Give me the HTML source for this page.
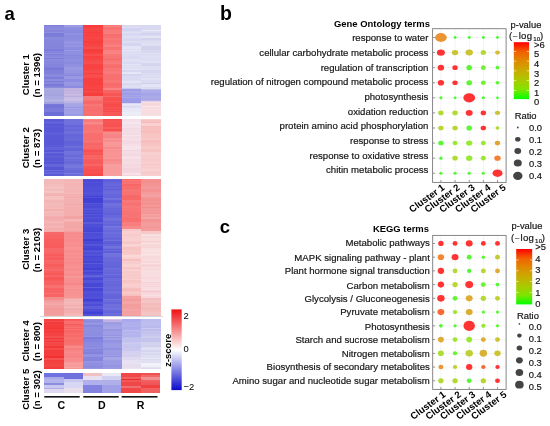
<!DOCTYPE html>
<html><head><meta charset="utf-8"><title>figure</title><style>
html,body{margin:0;padding:0;background:#fff;width:550px;height:426px;overflow:hidden}
svg{display:block;will-change:transform}
text{font-family:"Liberation Sans",sans-serif}
.lb{fill:#141414;stroke:#141414;stroke-width:0.18px}
</style></head><body>
<svg width="550" height="426" viewBox="0 0 550 426">
<rect width="550" height="426" fill="#fff"/>
<g shape-rendering="crispEdges">
<rect x="44.30" y="373.00" width="19.32" height="3.65" fill="#7070e0"/>
<rect x="44.30" y="376.60" width="19.32" height="2.85" fill="#a8a8e8"/>
<rect x="44.30" y="379.40" width="19.32" height="3.85" fill="#b4b4ec"/>
<rect x="44.30" y="383.20" width="19.32" height="1.45" fill="#8c8ce0"/>
<rect x="44.30" y="384.60" width="19.32" height="2.95" fill="#c8c8f0"/>
<rect x="44.30" y="387.50" width="19.32" height="1.55" fill="#b0b0e8"/>
<rect x="44.30" y="389.00" width="19.32" height="3.85" fill="#e0d8f0"/>
<rect x="63.57" y="373.00" width="19.32" height="5.95" fill="#7070dc"/>
<rect x="63.57" y="378.90" width="19.32" height="3.55" fill="#c8c8f0"/>
<rect x="63.57" y="382.40" width="19.32" height="5.35" fill="#d8d8f4"/>
<rect x="63.57" y="387.70" width="19.32" height="5.15" fill="#e8e0ec"/>
<rect x="82.84" y="373.00" width="19.32" height="2.95" fill="#f0c0c4"/>
<rect x="82.84" y="375.90" width="19.32" height="3.65" fill="#e8e0f0"/>
<rect x="82.84" y="379.50" width="19.32" height="5.95" fill="#b0b0ec"/>
<rect x="82.84" y="385.40" width="19.32" height="7.45" fill="#8282e0"/>
<rect x="102.11" y="373.00" width="19.32" height="2.95" fill="#e8e8f4"/>
<rect x="102.11" y="375.90" width="19.32" height="3.65" fill="#d0d0f0"/>
<rect x="102.11" y="379.50" width="19.32" height="5.95" fill="#b0b0e8"/>
<rect x="102.11" y="385.40" width="19.32" height="7.45" fill="#a0a0e8"/>
<rect x="121.38" y="373.00" width="19.32" height="4.05" fill="#f04848"/>
<rect x="121.38" y="377.00" width="19.32" height="1.55" fill="#f06060"/>
<rect x="121.38" y="378.50" width="19.32" height="1.55" fill="#ee2c2c"/>
<rect x="121.38" y="380.00" width="19.32" height="1.55" fill="#f05858"/>
<rect x="121.38" y="381.50" width="19.32" height="4.55" fill="#f04848"/>
<rect x="121.38" y="386.00" width="19.32" height="2.05" fill="#f07070"/>
<rect x="121.38" y="388.00" width="19.32" height="4.85" fill="#f04848"/>
<rect x="140.65" y="373.00" width="19.32" height="2.05" fill="#f05050"/>
<rect x="140.65" y="375.00" width="19.32" height="2.05" fill="#f06868"/>
<rect x="140.65" y="377.00" width="19.32" height="2.55" fill="#f09090"/>
<rect x="140.65" y="379.50" width="19.32" height="2.55" fill="#f06060"/>
<rect x="140.65" y="382.00" width="19.32" height="3.05" fill="#f05858"/>
<rect x="140.65" y="385.00" width="19.32" height="3.05" fill="#f04040"/>
<rect x="140.65" y="388.00" width="19.32" height="4.85" fill="#f06060"/>
<rect x="44.30" y="24.75" width="19.45" height="1.55" fill="#8080db"/>
<rect x="44.30" y="26.25" width="19.45" height="2.05" fill="#8888dd"/>
<rect x="44.30" y="28.25" width="19.45" height="2.05" fill="#8b8bde"/>
<rect x="44.30" y="30.25" width="19.45" height="2.05" fill="#8585dc"/>
<rect x="44.30" y="32.25" width="19.45" height="1.05" fill="#9090e0"/>
<rect x="44.30" y="33.25" width="19.45" height="1.05" fill="#7a7ad9"/>
<rect x="44.30" y="34.25" width="19.45" height="3.05" fill="#7c7cda"/>
<rect x="44.30" y="37.25" width="19.45" height="2.05" fill="#8b8bde"/>
<rect x="44.30" y="39.25" width="19.45" height="1.05" fill="#8787dd"/>
<rect x="44.30" y="40.25" width="19.45" height="1.05" fill="#8686dd"/>
<rect x="44.30" y="41.25" width="19.45" height="2.05" fill="#8585dc"/>
<rect x="44.30" y="43.25" width="19.45" height="2.05" fill="#8585dc"/>
<rect x="44.30" y="45.25" width="19.45" height="1.05" fill="#8686dd"/>
<rect x="44.30" y="46.25" width="19.45" height="1.05" fill="#8282dc"/>
<rect x="44.30" y="47.25" width="19.45" height="2.05" fill="#8585dc"/>
<rect x="44.30" y="49.25" width="19.45" height="2.05" fill="#7c7cda"/>
<rect x="44.30" y="51.25" width="19.45" height="1.55" fill="#8484dc"/>
<rect x="44.30" y="52.75" width="19.45" height="1.05" fill="#8f8fdf"/>
<rect x="44.30" y="53.75" width="19.45" height="1.55" fill="#7e7eda"/>
<rect x="44.30" y="55.25" width="19.45" height="1.55" fill="#8787dd"/>
<rect x="44.30" y="56.75" width="19.45" height="1.05" fill="#8e8edf"/>
<rect x="44.30" y="57.75" width="19.45" height="1.05" fill="#7a7ad9"/>
<rect x="44.30" y="58.75" width="19.45" height="2.05" fill="#8c8cdf"/>
<rect x="44.30" y="60.75" width="19.45" height="2.05" fill="#8686dd"/>
<rect x="44.30" y="62.75" width="19.45" height="1.55" fill="#8888dd"/>
<rect x="44.30" y="64.25" width="19.45" height="2.05" fill="#8484dc"/>
<rect x="44.30" y="66.25" width="19.45" height="1.05" fill="#8484dc"/>
<rect x="44.30" y="67.25" width="19.45" height="1.05" fill="#7f7fdb"/>
<rect x="44.30" y="68.25" width="19.45" height="1.55" fill="#7878d9"/>
<rect x="44.30" y="69.75" width="19.45" height="1.55" fill="#8080db"/>
<rect x="44.30" y="71.25" width="19.45" height="3.05" fill="#8080db"/>
<rect x="44.30" y="74.25" width="19.45" height="2.05" fill="#8989de"/>
<rect x="44.30" y="76.25" width="19.45" height="1.05" fill="#8888dd"/>
<rect x="44.30" y="77.25" width="19.45" height="2.05" fill="#7c7cda"/>
<rect x="44.30" y="79.25" width="19.45" height="2.05" fill="#8d8ddf"/>
<rect x="44.30" y="81.25" width="19.45" height="1.05" fill="#7c7cda"/>
<rect x="44.30" y="82.25" width="19.45" height="2.05" fill="#8989de"/>
<rect x="44.30" y="84.25" width="19.45" height="2.05" fill="#7a7ada"/>
<rect x="44.30" y="86.25" width="19.45" height="1.05" fill="#8383dc"/>
<rect x="44.30" y="87.25" width="19.45" height="1.05" fill="#8b8bdc"/>
<rect x="44.30" y="88.25" width="19.45" height="2.05" fill="#ababe1"/>
<rect x="44.30" y="90.25" width="19.45" height="2.05" fill="#a8a8e0"/>
<rect x="44.30" y="92.25" width="19.45" height="2.05" fill="#a6a6e0"/>
<rect x="44.30" y="94.25" width="19.45" height="2.05" fill="#a4a4df"/>
<rect x="44.30" y="96.25" width="19.45" height="3.05" fill="#aaaae2"/>
<rect x="44.30" y="99.25" width="19.45" height="3.05" fill="#b1b1e4"/>
<rect x="44.30" y="102.25" width="19.45" height="2.05" fill="#a2a2e2"/>
<rect x="44.30" y="104.25" width="19.45" height="2.05" fill="#7777d9"/>
<rect x="44.30" y="106.25" width="19.45" height="1.05" fill="#6e6ed7"/>
<rect x="44.30" y="107.25" width="19.45" height="2.05" fill="#7878da"/>
<rect x="44.30" y="109.25" width="19.45" height="1.05" fill="#7c7cdb"/>
<rect x="44.30" y="110.25" width="19.45" height="2.05" fill="#7b7bdb"/>
<rect x="44.30" y="112.25" width="19.45" height="1.05" fill="#6e6ed7"/>
<rect x="44.30" y="113.25" width="19.45" height="1.55" fill="#6d6dd7"/>
<rect x="44.30" y="114.75" width="19.45" height="1.70" fill="#6d6dd7"/>
<rect x="63.70" y="24.75" width="19.45" height="2.05" fill="#9c9ce5"/>
<rect x="63.70" y="26.75" width="19.45" height="1.55" fill="#9191e2"/>
<rect x="63.70" y="28.25" width="19.45" height="1.55" fill="#8e8ee1"/>
<rect x="63.70" y="29.75" width="19.45" height="3.05" fill="#8989e0"/>
<rect x="63.70" y="32.75" width="19.45" height="2.05" fill="#9090e2"/>
<rect x="63.70" y="34.75" width="19.45" height="3.05" fill="#8a8ae0"/>
<rect x="63.70" y="37.75" width="19.45" height="3.05" fill="#8b8be0"/>
<rect x="63.70" y="40.75" width="19.45" height="3.05" fill="#9595e3"/>
<rect x="63.70" y="43.75" width="19.45" height="1.55" fill="#8d8de1"/>
<rect x="63.70" y="45.25" width="19.45" height="2.05" fill="#9595e3"/>
<rect x="63.70" y="47.25" width="19.45" height="2.05" fill="#8c8ce0"/>
<rect x="63.70" y="49.25" width="19.45" height="1.05" fill="#8989df"/>
<rect x="63.70" y="50.25" width="19.45" height="1.05" fill="#9999e4"/>
<rect x="63.70" y="51.25" width="19.45" height="2.05" fill="#9090e1"/>
<rect x="63.70" y="53.25" width="19.45" height="1.55" fill="#8f8fe1"/>
<rect x="63.70" y="54.75" width="19.45" height="1.05" fill="#8888df"/>
<rect x="63.70" y="55.75" width="19.45" height="3.05" fill="#8b8be0"/>
<rect x="63.70" y="58.75" width="19.45" height="1.55" fill="#9090e1"/>
<rect x="63.70" y="60.25" width="19.45" height="1.55" fill="#8f8fe1"/>
<rect x="63.70" y="61.75" width="19.45" height="2.05" fill="#8a8adf"/>
<rect x="63.70" y="63.75" width="19.45" height="3.05" fill="#9191e1"/>
<rect x="63.70" y="66.75" width="19.45" height="3.05" fill="#9999e3"/>
<rect x="63.70" y="69.75" width="19.45" height="3.05" fill="#9494e2"/>
<rect x="63.70" y="72.75" width="19.45" height="2.05" fill="#9090e1"/>
<rect x="63.70" y="74.75" width="19.45" height="1.05" fill="#8888df"/>
<rect x="63.70" y="75.75" width="19.45" height="3.05" fill="#9898e3"/>
<rect x="63.70" y="78.75" width="19.45" height="3.05" fill="#8c8ce0"/>
<rect x="63.70" y="81.75" width="19.45" height="1.05" fill="#9898e3"/>
<rect x="63.70" y="82.75" width="19.45" height="3.05" fill="#9595e2"/>
<rect x="63.70" y="85.75" width="19.45" height="2.05" fill="#8b8bdf"/>
<rect x="63.70" y="87.75" width="19.45" height="2.05" fill="#c2b4e1"/>
<rect x="63.70" y="89.75" width="19.45" height="1.05" fill="#c1b2df"/>
<rect x="63.70" y="90.75" width="19.45" height="2.05" fill="#c3b4e1"/>
<rect x="63.70" y="92.75" width="19.45" height="1.05" fill="#beb0df"/>
<rect x="63.70" y="93.75" width="19.45" height="1.05" fill="#cabfe5"/>
<rect x="63.70" y="94.75" width="19.45" height="1.05" fill="#c3b7e2"/>
<rect x="63.70" y="95.75" width="19.45" height="1.55" fill="#bcb0e0"/>
<rect x="63.70" y="97.25" width="19.45" height="1.05" fill="#c5bae4"/>
<rect x="63.70" y="98.25" width="19.45" height="3.05" fill="#c9c0e7"/>
<rect x="63.70" y="101.25" width="19.45" height="2.05" fill="#bdb4e2"/>
<rect x="63.70" y="103.25" width="19.45" height="2.05" fill="#a7a6e6"/>
<rect x="63.70" y="105.25" width="19.45" height="2.05" fill="#a3a3e6"/>
<rect x="63.70" y="107.25" width="19.45" height="1.05" fill="#9797e3"/>
<rect x="63.70" y="108.25" width="19.45" height="1.05" fill="#a5a5e7"/>
<rect x="63.70" y="109.25" width="19.45" height="2.05" fill="#9d9de5"/>
<rect x="63.70" y="111.25" width="19.45" height="3.05" fill="#a0a0e6"/>
<rect x="63.70" y="114.25" width="19.45" height="1.05" fill="#9797e4"/>
<rect x="63.70" y="115.25" width="19.45" height="1.05" fill="#9c9ce5"/>
<rect x="63.70" y="116.25" width="19.45" height="0.20" fill="#9191e2"/>
<rect x="83.10" y="24.75" width="19.45" height="1.05" fill="#f83b3b"/>
<rect x="83.10" y="25.75" width="19.45" height="2.05" fill="#f83e3e"/>
<rect x="83.10" y="27.75" width="19.45" height="2.05" fill="#f84646"/>
<rect x="83.10" y="29.75" width="19.45" height="2.05" fill="#f84343"/>
<rect x="83.10" y="31.75" width="19.45" height="2.05" fill="#f83f3f"/>
<rect x="83.10" y="33.75" width="19.45" height="1.55" fill="#f84545"/>
<rect x="83.10" y="35.25" width="19.45" height="1.05" fill="#f83d3d"/>
<rect x="83.10" y="36.25" width="19.45" height="2.05" fill="#f84646"/>
<rect x="83.10" y="38.25" width="19.45" height="3.05" fill="#f84444"/>
<rect x="83.10" y="41.25" width="19.45" height="1.05" fill="#f83b3b"/>
<rect x="83.10" y="42.25" width="19.45" height="1.05" fill="#f84040"/>
<rect x="83.10" y="43.25" width="19.45" height="1.55" fill="#f84141"/>
<rect x="83.10" y="44.75" width="19.45" height="2.05" fill="#f84646"/>
<rect x="83.10" y="46.75" width="19.45" height="2.05" fill="#f84d4d"/>
<rect x="83.10" y="48.75" width="19.45" height="3.05" fill="#f83d3d"/>
<rect x="83.10" y="51.75" width="19.45" height="2.05" fill="#f84343"/>
<rect x="83.10" y="53.75" width="19.45" height="2.05" fill="#f84e4e"/>
<rect x="83.10" y="55.75" width="19.45" height="1.05" fill="#f84242"/>
<rect x="83.10" y="56.75" width="19.45" height="2.05" fill="#f84343"/>
<rect x="83.10" y="58.75" width="19.45" height="2.05" fill="#f84949"/>
<rect x="83.10" y="60.75" width="19.45" height="1.05" fill="#f84a4a"/>
<rect x="83.10" y="61.75" width="19.45" height="1.05" fill="#f84f4f"/>
<rect x="83.10" y="62.75" width="19.45" height="1.55" fill="#f84e4e"/>
<rect x="83.10" y="64.25" width="19.45" height="1.05" fill="#f84444"/>
<rect x="83.10" y="65.25" width="19.45" height="3.05" fill="#f84141"/>
<rect x="83.10" y="68.25" width="19.45" height="2.05" fill="#f84343"/>
<rect x="83.10" y="70.25" width="19.45" height="3.05" fill="#f84b4b"/>
<rect x="83.10" y="73.25" width="19.45" height="1.05" fill="#f84040"/>
<rect x="83.10" y="74.25" width="19.45" height="1.05" fill="#f84949"/>
<rect x="83.10" y="75.25" width="19.45" height="1.55" fill="#f84e4e"/>
<rect x="83.10" y="76.75" width="19.45" height="1.05" fill="#f84c4c"/>
<rect x="83.10" y="77.75" width="19.45" height="1.55" fill="#f84242"/>
<rect x="83.10" y="79.25" width="19.45" height="2.05" fill="#f84040"/>
<rect x="83.10" y="81.25" width="19.45" height="2.05" fill="#f84141"/>
<rect x="83.10" y="83.25" width="19.45" height="1.05" fill="#f83f3f"/>
<rect x="83.10" y="84.25" width="19.45" height="1.55" fill="#f84242"/>
<rect x="83.10" y="85.75" width="19.45" height="2.05" fill="#f84444"/>
<rect x="83.10" y="87.75" width="19.45" height="1.05" fill="#f84747"/>
<rect x="83.10" y="88.75" width="19.45" height="1.05" fill="#f83e3e"/>
<rect x="83.10" y="89.75" width="19.45" height="2.05" fill="#f84747"/>
<rect x="83.10" y="91.75" width="19.45" height="1.05" fill="#f84747"/>
<rect x="83.10" y="92.75" width="19.45" height="3.05" fill="#f83d3d"/>
<rect x="83.10" y="95.75" width="19.45" height="2.05" fill="#f87b7b"/>
<rect x="83.10" y="97.75" width="19.45" height="2.05" fill="#f87979"/>
<rect x="83.10" y="99.75" width="19.45" height="1.05" fill="#f87171"/>
<rect x="83.10" y="100.75" width="19.45" height="3.05" fill="#f76868"/>
<rect x="83.10" y="103.75" width="19.45" height="1.05" fill="#f87575"/>
<rect x="83.10" y="104.75" width="19.45" height="1.05" fill="#f87878"/>
<rect x="83.10" y="105.75" width="19.45" height="3.05" fill="#f86f6f"/>
<rect x="83.10" y="108.75" width="19.45" height="1.05" fill="#f86c6c"/>
<rect x="83.10" y="109.75" width="19.45" height="2.05" fill="#f86e6e"/>
<rect x="83.10" y="111.75" width="19.45" height="1.05" fill="#f87171"/>
<rect x="83.10" y="112.75" width="19.45" height="1.05" fill="#f86f6f"/>
<rect x="83.10" y="113.75" width="19.45" height="1.55" fill="#f86e6e"/>
<rect x="83.10" y="115.25" width="19.45" height="1.20" fill="#f86d6d"/>
<rect x="102.50" y="24.75" width="19.45" height="1.55" fill="#f87d7d"/>
<rect x="102.50" y="26.25" width="19.45" height="1.05" fill="#f98282"/>
<rect x="102.50" y="27.25" width="19.45" height="2.05" fill="#f87272"/>
<rect x="102.50" y="29.25" width="19.45" height="1.05" fill="#f87474"/>
<rect x="102.50" y="30.25" width="19.45" height="1.05" fill="#f87c7c"/>
<rect x="102.50" y="31.25" width="19.45" height="2.05" fill="#f87a7a"/>
<rect x="102.50" y="33.25" width="19.45" height="1.05" fill="#f87c7c"/>
<rect x="102.50" y="34.25" width="19.45" height="2.05" fill="#f76d6d"/>
<rect x="102.50" y="36.25" width="19.45" height="2.05" fill="#f87070"/>
<rect x="102.50" y="38.25" width="19.45" height="1.55" fill="#f87777"/>
<rect x="102.50" y="39.75" width="19.45" height="2.05" fill="#f87474"/>
<rect x="102.50" y="41.75" width="19.45" height="1.05" fill="#f87373"/>
<rect x="102.50" y="42.75" width="19.45" height="2.05" fill="#f87878"/>
<rect x="102.50" y="44.75" width="19.45" height="2.05" fill="#f98080"/>
<rect x="102.50" y="46.75" width="19.45" height="1.05" fill="#f87272"/>
<rect x="102.50" y="47.75" width="19.45" height="2.05" fill="#f87474"/>
<rect x="102.50" y="49.75" width="19.45" height="3.05" fill="#f98383"/>
<rect x="102.50" y="52.75" width="19.45" height="1.05" fill="#f98282"/>
<rect x="102.50" y="53.75" width="19.45" height="2.05" fill="#f87878"/>
<rect x="102.50" y="55.75" width="19.45" height="2.05" fill="#f87575"/>
<rect x="102.50" y="57.75" width="19.45" height="1.05" fill="#f87373"/>
<rect x="102.50" y="58.75" width="19.45" height="1.05" fill="#f86b6b"/>
<rect x="102.50" y="59.75" width="19.45" height="2.05" fill="#f87575"/>
<rect x="102.50" y="61.75" width="19.45" height="2.05" fill="#f87a7a"/>
<rect x="102.50" y="63.75" width="19.45" height="1.05" fill="#f87272"/>
<rect x="102.50" y="64.75" width="19.45" height="1.05" fill="#f86e6e"/>
<rect x="102.50" y="65.75" width="19.45" height="2.05" fill="#f86c6c"/>
<rect x="102.50" y="67.75" width="19.45" height="2.05" fill="#f87676"/>
<rect x="102.50" y="69.75" width="19.45" height="1.05" fill="#f87373"/>
<rect x="102.50" y="70.75" width="19.45" height="3.05" fill="#f87a7a"/>
<rect x="102.50" y="73.75" width="19.45" height="3.05" fill="#f87171"/>
<rect x="102.50" y="76.75" width="19.45" height="1.55" fill="#f86d6d"/>
<rect x="102.50" y="78.25" width="19.45" height="2.05" fill="#f87171"/>
<rect x="102.50" y="80.25" width="19.45" height="3.05" fill="#f87676"/>
<rect x="102.50" y="83.25" width="19.45" height="3.05" fill="#f86b6b"/>
<rect x="102.50" y="86.25" width="19.45" height="2.05" fill="#f86f6f"/>
<rect x="102.50" y="88.25" width="19.45" height="2.05" fill="#f98383"/>
<rect x="102.50" y="90.25" width="19.45" height="1.05" fill="#f76565"/>
<rect x="102.50" y="91.25" width="19.45" height="2.05" fill="#f86363"/>
<rect x="102.50" y="93.25" width="19.45" height="2.05" fill="#f85757"/>
<rect x="102.50" y="95.25" width="19.45" height="1.05" fill="#f85656"/>
<rect x="102.50" y="96.25" width="19.45" height="1.05" fill="#f96666"/>
<rect x="102.50" y="97.25" width="19.45" height="1.05" fill="#f85555"/>
<rect x="102.50" y="98.25" width="19.45" height="3.05" fill="#f84f4f"/>
<rect x="102.50" y="101.25" width="19.45" height="1.05" fill="#f85959"/>
<rect x="102.50" y="102.25" width="19.45" height="2.05" fill="#f84f4f"/>
<rect x="102.50" y="104.25" width="19.45" height="3.05" fill="#f84a4a"/>
<rect x="102.50" y="107.25" width="19.45" height="1.55" fill="#f85252"/>
<rect x="102.50" y="108.75" width="19.45" height="1.05" fill="#f84a4a"/>
<rect x="102.50" y="109.75" width="19.45" height="1.05" fill="#f85757"/>
<rect x="102.50" y="110.75" width="19.45" height="1.05" fill="#f84a4a"/>
<rect x="102.50" y="111.75" width="19.45" height="3.05" fill="#f85858"/>
<rect x="102.50" y="114.75" width="19.45" height="1.70" fill="#f85454"/>
<rect x="121.90" y="24.75" width="19.45" height="2.05" fill="#d9d9f3"/>
<rect x="121.90" y="26.75" width="19.45" height="1.05" fill="#dedef4"/>
<rect x="121.90" y="27.75" width="19.45" height="1.55" fill="#d4d4f1"/>
<rect x="121.90" y="29.25" width="19.45" height="2.05" fill="#d2d2f1"/>
<rect x="121.90" y="31.25" width="19.45" height="1.05" fill="#dadaf3"/>
<rect x="121.90" y="32.25" width="19.45" height="1.05" fill="#e0e0f5"/>
<rect x="121.90" y="33.25" width="19.45" height="3.05" fill="#d8d8f2"/>
<rect x="121.90" y="36.25" width="19.45" height="1.05" fill="#dfdff5"/>
<rect x="121.90" y="37.25" width="19.45" height="1.05" fill="#e0e0f5"/>
<rect x="121.90" y="38.25" width="19.45" height="1.05" fill="#d8d8f2"/>
<rect x="121.90" y="39.25" width="19.45" height="1.55" fill="#d7d7f2"/>
<rect x="121.90" y="40.75" width="19.45" height="1.05" fill="#dfdff4"/>
<rect x="121.90" y="41.75" width="19.45" height="1.55" fill="#ddddf4"/>
<rect x="121.90" y="43.25" width="19.45" height="3.05" fill="#d5d5f1"/>
<rect x="121.90" y="46.25" width="19.45" height="3.05" fill="#e4e4f6"/>
<rect x="121.90" y="49.25" width="19.45" height="1.05" fill="#dcdcf3"/>
<rect x="121.90" y="50.25" width="19.45" height="1.05" fill="#e6e6f6"/>
<rect x="121.90" y="51.25" width="19.45" height="2.05" fill="#ddddf3"/>
<rect x="121.90" y="53.25" width="19.45" height="1.55" fill="#ddddf3"/>
<rect x="121.90" y="54.75" width="19.45" height="1.05" fill="#dcdcf3"/>
<rect x="121.90" y="55.75" width="19.45" height="1.05" fill="#dadaf2"/>
<rect x="121.90" y="56.75" width="19.45" height="1.55" fill="#d9d9f2"/>
<rect x="121.90" y="58.25" width="19.45" height="1.05" fill="#dbdbf2"/>
<rect x="121.90" y="59.25" width="19.45" height="2.05" fill="#e0e0f4"/>
<rect x="121.90" y="61.25" width="19.45" height="1.05" fill="#ddddf3"/>
<rect x="121.90" y="62.25" width="19.45" height="1.55" fill="#dadaf2"/>
<rect x="121.90" y="63.75" width="19.45" height="1.55" fill="#e4e4f5"/>
<rect x="121.90" y="65.25" width="19.45" height="1.05" fill="#dedef3"/>
<rect x="121.90" y="66.25" width="19.45" height="1.05" fill="#dfdff4"/>
<rect x="121.90" y="67.25" width="19.45" height="1.55" fill="#dfdff4"/>
<rect x="121.90" y="68.75" width="19.45" height="1.05" fill="#e4e4f5"/>
<rect x="121.90" y="69.75" width="19.45" height="2.05" fill="#d7d7f1"/>
<rect x="121.90" y="71.75" width="19.45" height="2.05" fill="#e6e6f6"/>
<rect x="121.90" y="73.75" width="19.45" height="2.05" fill="#d4d4f0"/>
<rect x="121.90" y="75.75" width="19.45" height="2.05" fill="#dbdbf2"/>
<rect x="121.90" y="77.75" width="19.45" height="2.05" fill="#d9d9f1"/>
<rect x="121.90" y="79.75" width="19.45" height="1.05" fill="#dcdcf2"/>
<rect x="121.90" y="80.75" width="19.45" height="2.05" fill="#e4e4f5"/>
<rect x="121.90" y="82.75" width="19.45" height="1.05" fill="#dadaf1"/>
<rect x="121.90" y="83.75" width="19.45" height="1.05" fill="#d7d7f0"/>
<rect x="121.90" y="84.75" width="19.45" height="1.55" fill="#dedef3"/>
<rect x="121.90" y="86.25" width="19.45" height="2.05" fill="#dfdff3"/>
<rect x="121.90" y="88.25" width="19.45" height="1.05" fill="#cacaf0"/>
<rect x="121.90" y="89.25" width="19.45" height="1.05" fill="#9d9de6"/>
<rect x="121.90" y="90.25" width="19.45" height="1.05" fill="#9b9be6"/>
<rect x="121.90" y="91.25" width="19.45" height="2.05" fill="#a5a5e8"/>
<rect x="121.90" y="93.25" width="19.45" height="1.55" fill="#9d9de7"/>
<rect x="121.90" y="94.75" width="19.45" height="1.05" fill="#a5a5e9"/>
<rect x="121.90" y="95.75" width="19.45" height="1.05" fill="#9f9fe7"/>
<rect x="121.90" y="96.75" width="19.45" height="1.05" fill="#a8a8ea"/>
<rect x="121.90" y="97.75" width="19.45" height="3.05" fill="#9d9de7"/>
<rect x="121.90" y="100.75" width="19.45" height="2.05" fill="#9b9be7"/>
<rect x="121.90" y="102.75" width="19.45" height="1.05" fill="#d7d7f3"/>
<rect x="121.90" y="103.75" width="19.45" height="1.55" fill="#e6e6f6"/>
<rect x="121.90" y="105.25" width="19.45" height="1.05" fill="#e4e4f5"/>
<rect x="121.90" y="106.25" width="19.45" height="1.05" fill="#d9d9f1"/>
<rect x="121.90" y="107.25" width="19.45" height="1.05" fill="#e0e0f4"/>
<rect x="121.90" y="108.25" width="19.45" height="1.05" fill="#e5e5f5"/>
<rect x="121.90" y="109.25" width="19.45" height="1.55" fill="#e8e8f6"/>
<rect x="121.90" y="110.75" width="19.45" height="1.05" fill="#e7e7f6"/>
<rect x="121.90" y="111.75" width="19.45" height="3.05" fill="#ededf8"/>
<rect x="121.90" y="114.75" width="19.45" height="1.05" fill="#eaeaf7"/>
<rect x="121.90" y="115.75" width="19.45" height="0.70" fill="#e3e3f4"/>
<rect x="141.30" y="24.75" width="19.45" height="2.05" fill="#d8d8f0"/>
<rect x="141.30" y="26.75" width="19.45" height="3.05" fill="#d8d8f0"/>
<rect x="141.30" y="29.75" width="19.45" height="1.05" fill="#e9e9f6"/>
<rect x="141.30" y="30.75" width="19.45" height="1.05" fill="#ddddf2"/>
<rect x="141.30" y="31.75" width="19.45" height="1.55" fill="#d9d9f0"/>
<rect x="141.30" y="33.25" width="19.45" height="2.05" fill="#d2d2ee"/>
<rect x="141.30" y="35.25" width="19.45" height="1.05" fill="#dbdbf1"/>
<rect x="141.30" y="36.25" width="19.45" height="1.55" fill="#e3e3f4"/>
<rect x="141.30" y="37.75" width="19.45" height="2.05" fill="#d3d3ee"/>
<rect x="141.30" y="39.75" width="19.45" height="1.05" fill="#d9d9f0"/>
<rect x="141.30" y="40.75" width="19.45" height="2.05" fill="#dedef3"/>
<rect x="141.30" y="42.75" width="19.45" height="3.05" fill="#e0e0f3"/>
<rect x="141.30" y="45.75" width="19.45" height="1.05" fill="#d3d3ee"/>
<rect x="141.30" y="46.75" width="19.45" height="3.05" fill="#d3d3ee"/>
<rect x="141.30" y="49.75" width="19.45" height="3.05" fill="#d8d8f0"/>
<rect x="141.30" y="52.75" width="19.45" height="1.05" fill="#e2e2f4"/>
<rect x="141.30" y="53.75" width="19.45" height="1.05" fill="#d9d9f1"/>
<rect x="141.30" y="54.75" width="19.45" height="3.05" fill="#dfdff3"/>
<rect x="141.30" y="57.75" width="19.45" height="1.55" fill="#dbdbf1"/>
<rect x="141.30" y="59.25" width="19.45" height="2.05" fill="#dcdcf2"/>
<rect x="141.30" y="61.25" width="19.45" height="1.55" fill="#e2e2f4"/>
<rect x="141.30" y="62.75" width="19.45" height="3.05" fill="#d4d4ef"/>
<rect x="141.30" y="65.75" width="19.45" height="1.05" fill="#e0e0f3"/>
<rect x="141.30" y="66.75" width="19.45" height="1.05" fill="#ddddf2"/>
<rect x="141.30" y="67.75" width="19.45" height="2.05" fill="#dfdff3"/>
<rect x="141.30" y="69.75" width="19.45" height="2.05" fill="#d6d6f0"/>
<rect x="141.30" y="71.75" width="19.45" height="1.05" fill="#d6d6f0"/>
<rect x="141.30" y="72.75" width="19.45" height="3.05" fill="#ddddf2"/>
<rect x="141.30" y="75.75" width="19.45" height="1.05" fill="#dedef3"/>
<rect x="141.30" y="76.75" width="19.45" height="1.55" fill="#dadaf1"/>
<rect x="141.30" y="78.25" width="19.45" height="2.05" fill="#e2e2f4"/>
<rect x="141.30" y="80.25" width="19.45" height="1.05" fill="#dbdbf2"/>
<rect x="141.30" y="81.25" width="19.45" height="2.05" fill="#dbdbf2"/>
<rect x="141.30" y="83.25" width="19.45" height="1.05" fill="#d0d0ee"/>
<rect x="141.30" y="84.25" width="19.45" height="1.55" fill="#e4e4f5"/>
<rect x="141.30" y="85.75" width="19.45" height="1.05" fill="#e4e4f5"/>
<rect x="141.30" y="86.75" width="19.45" height="2.05" fill="#ddddf2"/>
<rect x="141.30" y="88.75" width="19.45" height="1.05" fill="#bebeed"/>
<rect x="141.30" y="89.75" width="19.45" height="3.05" fill="#acace9"/>
<rect x="141.30" y="92.75" width="19.45" height="3.05" fill="#a5a5e7"/>
<rect x="141.30" y="95.75" width="19.45" height="1.55" fill="#ababe9"/>
<rect x="141.30" y="97.25" width="19.45" height="1.55" fill="#aaaae9"/>
<rect x="141.30" y="98.75" width="19.45" height="1.05" fill="#a5a5e7"/>
<rect x="141.30" y="99.75" width="19.45" height="1.05" fill="#b6b2e7"/>
<rect x="141.30" y="100.75" width="19.45" height="1.05" fill="#e4d3e6"/>
<rect x="141.30" y="101.75" width="19.45" height="1.05" fill="#f8dfe3"/>
<rect x="141.30" y="102.75" width="19.45" height="3.05" fill="#f6d8dc"/>
<rect x="141.30" y="105.75" width="19.45" height="1.05" fill="#fae9eb"/>
<rect x="141.30" y="106.75" width="19.45" height="2.05" fill="#f7dde0"/>
<rect x="141.30" y="108.75" width="19.45" height="1.05" fill="#f8dfe1"/>
<rect x="141.30" y="109.75" width="19.45" height="2.05" fill="#f7dddf"/>
<rect x="141.30" y="111.75" width="19.45" height="2.05" fill="#f7dcdd"/>
<rect x="141.30" y="113.75" width="19.45" height="1.05" fill="#f7dede"/>
<rect x="141.30" y="114.75" width="19.45" height="1.55" fill="#f8dfe0"/>
<rect x="141.30" y="116.25" width="19.45" height="0.20" fill="#f8e0e0"/>
<rect x="44.30" y="118.80" width="19.45" height="2.05" fill="#5959d8"/>
<rect x="44.30" y="120.80" width="19.45" height="1.05" fill="#5e5ed9"/>
<rect x="44.30" y="121.80" width="19.45" height="1.55" fill="#6363da"/>
<rect x="44.30" y="123.30" width="19.45" height="1.05" fill="#5f5fd9"/>
<rect x="44.30" y="124.30" width="19.45" height="2.05" fill="#5656d7"/>
<rect x="44.30" y="126.30" width="19.45" height="1.05" fill="#5e5ed9"/>
<rect x="44.30" y="127.30" width="19.45" height="2.05" fill="#5858d7"/>
<rect x="44.30" y="129.30" width="19.45" height="2.05" fill="#5757d7"/>
<rect x="44.30" y="131.30" width="19.45" height="1.05" fill="#5656d7"/>
<rect x="44.30" y="132.30" width="19.45" height="3.05" fill="#5d5dd9"/>
<rect x="44.30" y="135.30" width="19.45" height="1.55" fill="#5959d8"/>
<rect x="44.30" y="136.80" width="19.45" height="3.05" fill="#5959d8"/>
<rect x="44.30" y="139.80" width="19.45" height="1.55" fill="#5555d7"/>
<rect x="44.30" y="141.30" width="19.45" height="1.55" fill="#5858d7"/>
<rect x="44.30" y="142.80" width="19.45" height="2.05" fill="#5757d7"/>
<rect x="44.30" y="144.80" width="19.45" height="1.05" fill="#5c5cd8"/>
<rect x="44.30" y="145.80" width="19.45" height="1.05" fill="#5959d7"/>
<rect x="44.30" y="146.80" width="19.45" height="1.05" fill="#6464da"/>
<rect x="44.30" y="147.80" width="19.45" height="1.05" fill="#6060d9"/>
<rect x="44.30" y="148.80" width="19.45" height="1.05" fill="#6262da"/>
<rect x="44.30" y="149.80" width="19.45" height="1.55" fill="#5555d7"/>
<rect x="44.30" y="151.30" width="19.45" height="1.05" fill="#5757d7"/>
<rect x="44.30" y="152.30" width="19.45" height="1.05" fill="#6a6adb"/>
<rect x="44.30" y="153.30" width="19.45" height="1.05" fill="#5e5ed9"/>
<rect x="44.30" y="154.30" width="19.45" height="1.05" fill="#5555d6"/>
<rect x="44.30" y="155.30" width="19.45" height="3.05" fill="#5d5dd8"/>
<rect x="44.30" y="158.30" width="19.45" height="3.05" fill="#5858d7"/>
<rect x="44.30" y="161.30" width="19.45" height="1.05" fill="#5c5cd8"/>
<rect x="44.30" y="162.30" width="19.45" height="2.05" fill="#5555d6"/>
<rect x="44.30" y="164.30" width="19.45" height="1.05" fill="#6666da"/>
<rect x="44.30" y="165.30" width="19.45" height="2.05" fill="#6363da"/>
<rect x="44.30" y="167.30" width="19.45" height="3.05" fill="#5555d6"/>
<rect x="44.30" y="170.30" width="19.45" height="1.05" fill="#6a6adb"/>
<rect x="44.30" y="171.30" width="19.45" height="1.05" fill="#5c5cd8"/>
<rect x="44.30" y="172.30" width="19.45" height="1.55" fill="#6767db"/>
<rect x="44.30" y="173.80" width="19.45" height="1.95" fill="#5b5bd8"/>
<rect x="63.70" y="118.80" width="19.45" height="3.05" fill="#7171dd"/>
<rect x="63.70" y="121.80" width="19.45" height="3.05" fill="#7171dd"/>
<rect x="63.70" y="124.80" width="19.45" height="2.05" fill="#6767db"/>
<rect x="63.70" y="126.80" width="19.45" height="2.05" fill="#6c6cdc"/>
<rect x="63.70" y="128.80" width="19.45" height="2.05" fill="#6868db"/>
<rect x="63.70" y="130.80" width="19.45" height="1.05" fill="#6d6ddc"/>
<rect x="63.70" y="131.80" width="19.45" height="2.05" fill="#6f6fdd"/>
<rect x="63.70" y="133.80" width="19.45" height="1.05" fill="#6565da"/>
<rect x="63.70" y="134.80" width="19.45" height="2.05" fill="#6767da"/>
<rect x="63.70" y="136.80" width="19.45" height="1.05" fill="#6666da"/>
<rect x="63.70" y="137.80" width="19.45" height="1.55" fill="#6b6bdb"/>
<rect x="63.70" y="139.30" width="19.45" height="2.05" fill="#6868db"/>
<rect x="63.70" y="141.30" width="19.45" height="3.05" fill="#6161d9"/>
<rect x="63.70" y="144.30" width="19.45" height="2.05" fill="#6464da"/>
<rect x="63.70" y="146.30" width="19.45" height="1.05" fill="#6d6ddc"/>
<rect x="63.70" y="147.30" width="19.45" height="1.05" fill="#6c6cdb"/>
<rect x="63.70" y="148.30" width="19.45" height="3.05" fill="#6464da"/>
<rect x="63.70" y="151.30" width="19.45" height="1.55" fill="#7272dd"/>
<rect x="63.70" y="152.80" width="19.45" height="2.05" fill="#7171dd"/>
<rect x="63.70" y="154.80" width="19.45" height="2.05" fill="#6a6adb"/>
<rect x="63.70" y="156.80" width="19.45" height="2.05" fill="#7373dd"/>
<rect x="63.70" y="158.80" width="19.45" height="1.55" fill="#6b6bdb"/>
<rect x="63.70" y="160.30" width="19.45" height="1.05" fill="#6e6edc"/>
<rect x="63.70" y="161.30" width="19.45" height="3.05" fill="#6969da"/>
<rect x="63.70" y="164.30" width="19.45" height="2.05" fill="#7474dd"/>
<rect x="63.70" y="166.30" width="19.45" height="2.05" fill="#7878de"/>
<rect x="63.70" y="168.30" width="19.45" height="1.55" fill="#6e6edc"/>
<rect x="63.70" y="169.80" width="19.45" height="3.05" fill="#6969da"/>
<rect x="63.70" y="172.80" width="19.45" height="1.05" fill="#7c7cdf"/>
<rect x="63.70" y="173.80" width="19.45" height="1.95" fill="#6e6edb"/>
<rect x="83.10" y="118.80" width="19.45" height="1.55" fill="#f88383"/>
<rect x="83.10" y="120.30" width="19.45" height="1.55" fill="#f87979"/>
<rect x="83.10" y="121.80" width="19.45" height="2.05" fill="#f98888"/>
<rect x="83.10" y="123.80" width="19.45" height="1.55" fill="#f87e7e"/>
<rect x="83.10" y="125.30" width="19.45" height="1.55" fill="#f87373"/>
<rect x="83.10" y="126.80" width="19.45" height="3.05" fill="#f87373"/>
<rect x="83.10" y="129.80" width="19.45" height="3.05" fill="#f87878"/>
<rect x="83.10" y="132.80" width="19.45" height="2.05" fill="#f86f6f"/>
<rect x="83.10" y="134.80" width="19.45" height="2.05" fill="#f86d6d"/>
<rect x="83.10" y="136.80" width="19.45" height="1.05" fill="#f86e6e"/>
<rect x="83.10" y="137.80" width="19.45" height="1.05" fill="#f87070"/>
<rect x="83.10" y="138.80" width="19.45" height="1.05" fill="#f86b6b"/>
<rect x="83.10" y="139.80" width="19.45" height="2.05" fill="#f87474"/>
<rect x="83.10" y="141.80" width="19.45" height="1.05" fill="#f86e6e"/>
<rect x="83.10" y="142.80" width="19.45" height="2.05" fill="#f86565"/>
<rect x="83.10" y="144.80" width="19.45" height="3.05" fill="#f86a6a"/>
<rect x="83.10" y="147.80" width="19.45" height="1.05" fill="#f86666"/>
<rect x="83.10" y="148.80" width="19.45" height="1.55" fill="#f85e5e"/>
<rect x="83.10" y="150.30" width="19.45" height="1.55" fill="#f75151"/>
<rect x="83.10" y="151.80" width="19.45" height="1.55" fill="#f85a5a"/>
<rect x="83.10" y="153.30" width="19.45" height="2.05" fill="#f85757"/>
<rect x="83.10" y="155.30" width="19.45" height="1.05" fill="#f86464"/>
<rect x="83.10" y="156.30" width="19.45" height="1.05" fill="#f96767"/>
<rect x="83.10" y="157.30" width="19.45" height="1.05" fill="#f86060"/>
<rect x="83.10" y="158.30" width="19.45" height="1.05" fill="#f96b6b"/>
<rect x="83.10" y="159.30" width="19.45" height="1.05" fill="#f85c5c"/>
<rect x="83.10" y="160.30" width="19.45" height="2.05" fill="#f85b5b"/>
<rect x="83.10" y="162.30" width="19.45" height="2.05" fill="#f85a5a"/>
<rect x="83.10" y="164.30" width="19.45" height="1.55" fill="#f96464"/>
<rect x="83.10" y="165.80" width="19.45" height="3.05" fill="#f85656"/>
<rect x="83.10" y="168.80" width="19.45" height="3.05" fill="#f85050"/>
<rect x="83.10" y="171.80" width="19.45" height="2.05" fill="#f84f4f"/>
<rect x="83.10" y="173.80" width="19.45" height="1.95" fill="#f84949"/>
<rect x="102.50" y="118.80" width="19.45" height="1.05" fill="#f84c4c"/>
<rect x="102.50" y="119.80" width="19.45" height="1.05" fill="#f85454"/>
<rect x="102.50" y="120.80" width="19.45" height="1.55" fill="#f85555"/>
<rect x="102.50" y="122.30" width="19.45" height="1.55" fill="#f85454"/>
<rect x="102.50" y="123.80" width="19.45" height="2.05" fill="#f85252"/>
<rect x="102.50" y="125.80" width="19.45" height="1.55" fill="#f85050"/>
<rect x="102.50" y="127.30" width="19.45" height="2.05" fill="#f86060"/>
<rect x="102.50" y="129.30" width="19.45" height="1.55" fill="#f84f4f"/>
<rect x="102.50" y="130.80" width="19.45" height="1.05" fill="#f86d6d"/>
<rect x="102.50" y="131.80" width="19.45" height="1.55" fill="#f88f8f"/>
<rect x="102.50" y="133.30" width="19.45" height="2.05" fill="#f78888"/>
<rect x="102.50" y="135.30" width="19.45" height="3.05" fill="#f78484"/>
<rect x="102.50" y="138.30" width="19.45" height="2.05" fill="#f89393"/>
<rect x="102.50" y="140.30" width="19.45" height="2.05" fill="#f88d8d"/>
<rect x="102.50" y="142.30" width="19.45" height="3.05" fill="#f89a9a"/>
<rect x="102.50" y="145.30" width="19.45" height="1.55" fill="#f89595"/>
<rect x="102.50" y="146.80" width="19.45" height="2.05" fill="#f78c8c"/>
<rect x="102.50" y="148.80" width="19.45" height="1.05" fill="#f89595"/>
<rect x="102.50" y="149.80" width="19.45" height="1.05" fill="#f89292"/>
<rect x="102.50" y="150.80" width="19.45" height="1.05" fill="#f89191"/>
<rect x="102.50" y="151.80" width="19.45" height="3.05" fill="#f89494"/>
<rect x="102.50" y="154.80" width="19.45" height="3.05" fill="#f89393"/>
<rect x="102.50" y="157.80" width="19.45" height="1.55" fill="#f89898"/>
<rect x="102.50" y="159.30" width="19.45" height="2.05" fill="#f78b8b"/>
<rect x="102.50" y="161.30" width="19.45" height="3.05" fill="#f79090"/>
<rect x="102.50" y="164.30" width="19.45" height="1.05" fill="#f89b9b"/>
<rect x="102.50" y="165.30" width="19.45" height="3.05" fill="#f89d9d"/>
<rect x="102.50" y="168.30" width="19.45" height="3.05" fill="#f89b9b"/>
<rect x="102.50" y="171.30" width="19.45" height="3.05" fill="#f89e9e"/>
<rect x="102.50" y="174.30" width="19.45" height="1.45" fill="#f89e9e"/>
<rect x="121.90" y="118.80" width="19.45" height="1.55" fill="#f3dfe8"/>
<rect x="121.90" y="120.30" width="19.45" height="1.55" fill="#f3e0e8"/>
<rect x="121.90" y="121.80" width="19.45" height="2.05" fill="#f6e6ed"/>
<rect x="121.90" y="123.80" width="19.45" height="2.05" fill="#f4e0e8"/>
<rect x="121.90" y="125.80" width="19.45" height="2.05" fill="#f4e1e9"/>
<rect x="121.90" y="127.80" width="19.45" height="1.55" fill="#f2dae4"/>
<rect x="121.90" y="129.30" width="19.45" height="3.05" fill="#f3dde5"/>
<rect x="121.90" y="132.30" width="19.45" height="1.05" fill="#f4e0e8"/>
<rect x="121.90" y="133.30" width="19.45" height="2.05" fill="#f3dbe4"/>
<rect x="121.90" y="135.30" width="19.45" height="1.05" fill="#f6e5ec"/>
<rect x="121.90" y="136.30" width="19.45" height="1.05" fill="#f3dce5"/>
<rect x="121.90" y="137.30" width="19.45" height="2.05" fill="#f4dde5"/>
<rect x="121.90" y="139.30" width="19.45" height="1.05" fill="#f5e1e8"/>
<rect x="121.90" y="140.30" width="19.45" height="1.05" fill="#f3dce4"/>
<rect x="121.90" y="141.30" width="19.45" height="3.05" fill="#f3d9e2"/>
<rect x="121.90" y="144.30" width="19.45" height="2.05" fill="#f5dee6"/>
<rect x="121.90" y="146.30" width="19.45" height="3.05" fill="#f7e4ea"/>
<rect x="121.90" y="149.30" width="19.45" height="1.05" fill="#f6e3ea"/>
<rect x="121.90" y="150.30" width="19.45" height="1.05" fill="#f2d6df"/>
<rect x="121.90" y="151.30" width="19.45" height="3.05" fill="#f4dce3"/>
<rect x="121.90" y="154.30" width="19.45" height="2.05" fill="#f3d7e0"/>
<rect x="121.90" y="156.30" width="19.45" height="2.05" fill="#f6dfe6"/>
<rect x="121.90" y="158.30" width="19.45" height="1.05" fill="#f6e1e8"/>
<rect x="121.90" y="159.30" width="19.45" height="3.05" fill="#f4dbe2"/>
<rect x="121.90" y="162.30" width="19.45" height="1.55" fill="#f5dce3"/>
<rect x="121.90" y="163.80" width="19.45" height="2.05" fill="#f4d8e0"/>
<rect x="121.90" y="165.80" width="19.45" height="2.05" fill="#f5dae1"/>
<rect x="121.90" y="167.80" width="19.45" height="1.55" fill="#f3d4dc"/>
<rect x="121.90" y="169.30" width="19.45" height="3.05" fill="#f3d5dd"/>
<rect x="121.90" y="172.30" width="19.45" height="1.05" fill="#f4d7df"/>
<rect x="121.90" y="173.30" width="19.45" height="2.05" fill="#f7e0e6"/>
<rect x="121.90" y="175.30" width="19.45" height="0.45" fill="#f4d5dd"/>
<rect x="141.30" y="118.80" width="19.45" height="1.55" fill="#f9cccc"/>
<rect x="141.30" y="120.30" width="19.45" height="1.55" fill="#f8c2c2"/>
<rect x="141.30" y="121.80" width="19.45" height="1.05" fill="#f7bbbb"/>
<rect x="141.30" y="122.80" width="19.45" height="3.05" fill="#f9d1d1"/>
<rect x="141.30" y="125.80" width="19.45" height="1.55" fill="#f7bbbb"/>
<rect x="141.30" y="127.30" width="19.45" height="2.05" fill="#f7bfbf"/>
<rect x="141.30" y="129.30" width="19.45" height="1.55" fill="#f7c1c1"/>
<rect x="141.30" y="130.80" width="19.45" height="2.05" fill="#f7bdbd"/>
<rect x="141.30" y="132.80" width="19.45" height="2.05" fill="#f8c4c4"/>
<rect x="141.30" y="134.80" width="19.45" height="2.05" fill="#f8c4c4"/>
<rect x="141.30" y="136.80" width="19.45" height="1.55" fill="#f8c5c5"/>
<rect x="141.30" y="138.30" width="19.45" height="2.05" fill="#f8c9c9"/>
<rect x="141.30" y="140.30" width="19.45" height="3.05" fill="#f7bebe"/>
<rect x="141.30" y="143.30" width="19.45" height="3.05" fill="#f7c3c3"/>
<rect x="141.30" y="146.30" width="19.45" height="3.05" fill="#f8cbcb"/>
<rect x="141.30" y="149.30" width="19.45" height="3.05" fill="#f7c3c3"/>
<rect x="141.30" y="152.30" width="19.45" height="3.05" fill="#f9d0d0"/>
<rect x="141.30" y="155.30" width="19.45" height="2.05" fill="#f8cccc"/>
<rect x="141.30" y="157.30" width="19.45" height="2.05" fill="#f8cccc"/>
<rect x="141.30" y="159.30" width="19.45" height="2.05" fill="#f8cbcb"/>
<rect x="141.30" y="161.30" width="19.45" height="2.05" fill="#f8cdcd"/>
<rect x="141.30" y="163.30" width="19.45" height="1.05" fill="#f9cfcf"/>
<rect x="141.30" y="164.30" width="19.45" height="1.05" fill="#f7c5c5"/>
<rect x="141.30" y="165.30" width="19.45" height="1.55" fill="#f8cdcd"/>
<rect x="141.30" y="166.80" width="19.45" height="1.05" fill="#f8caca"/>
<rect x="141.30" y="167.80" width="19.45" height="2.05" fill="#f9cfcf"/>
<rect x="141.30" y="169.80" width="19.45" height="1.05" fill="#f9d6d6"/>
<rect x="141.30" y="170.80" width="19.45" height="1.05" fill="#f8cdcd"/>
<rect x="141.30" y="171.80" width="19.45" height="2.05" fill="#f8cbcb"/>
<rect x="141.30" y="173.80" width="19.45" height="1.95" fill="#f8cdcd"/>
<rect x="44.30" y="178.90" width="19.45" height="3.05" fill="#f3baba"/>
<rect x="44.30" y="181.90" width="19.45" height="1.05" fill="#f3baba"/>
<rect x="44.30" y="182.90" width="19.45" height="1.05" fill="#f3b8b8"/>
<rect x="44.30" y="183.90" width="19.45" height="2.05" fill="#f4bcbc"/>
<rect x="44.30" y="185.90" width="19.45" height="2.05" fill="#f4bfbf"/>
<rect x="44.30" y="187.90" width="19.45" height="1.05" fill="#f5c4c4"/>
<rect x="44.30" y="188.90" width="19.45" height="1.55" fill="#f3b9b9"/>
<rect x="44.30" y="190.40" width="19.45" height="1.05" fill="#f4bfbf"/>
<rect x="44.30" y="191.40" width="19.45" height="2.05" fill="#f5c3c3"/>
<rect x="44.30" y="193.40" width="19.45" height="2.05" fill="#f3b6b6"/>
<rect x="44.30" y="195.40" width="19.45" height="1.05" fill="#f2b0b0"/>
<rect x="44.30" y="196.40" width="19.45" height="3.05" fill="#f5c1c1"/>
<rect x="44.30" y="199.40" width="19.45" height="1.05" fill="#f5c0c0"/>
<rect x="44.30" y="200.40" width="19.45" height="3.05" fill="#f3b5b5"/>
<rect x="44.30" y="203.40" width="19.45" height="1.55" fill="#f4bbbb"/>
<rect x="44.30" y="204.90" width="19.45" height="3.05" fill="#f4b8b8"/>
<rect x="44.30" y="207.90" width="19.45" height="1.05" fill="#f5bcbc"/>
<rect x="44.30" y="208.90" width="19.45" height="2.05" fill="#f3aeae"/>
<rect x="44.30" y="210.90" width="19.45" height="2.05" fill="#f5baba"/>
<rect x="44.30" y="212.90" width="19.45" height="3.05" fill="#f4b7b7"/>
<rect x="44.30" y="215.90" width="19.45" height="1.55" fill="#f3afaf"/>
<rect x="44.30" y="217.40" width="19.45" height="2.05" fill="#f3abab"/>
<rect x="44.30" y="219.40" width="19.45" height="1.05" fill="#f3abab"/>
<rect x="44.30" y="220.40" width="19.45" height="2.05" fill="#f4b2b2"/>
<rect x="44.30" y="222.40" width="19.45" height="1.05" fill="#f5bbbb"/>
<rect x="44.30" y="223.40" width="19.45" height="1.55" fill="#f4b0b0"/>
<rect x="44.30" y="224.90" width="19.45" height="1.05" fill="#f4b0b0"/>
<rect x="44.30" y="225.90" width="19.45" height="1.55" fill="#f5b8b8"/>
<rect x="44.30" y="227.40" width="19.45" height="1.05" fill="#f4b3b3"/>
<rect x="44.30" y="228.40" width="19.45" height="1.55" fill="#f4adad"/>
<rect x="44.30" y="229.90" width="19.45" height="2.05" fill="#f4aeae"/>
<rect x="44.30" y="231.90" width="19.45" height="3.05" fill="#f76868"/>
<rect x="44.30" y="234.90" width="19.45" height="2.05" fill="#f86262"/>
<rect x="44.30" y="236.90" width="19.45" height="1.55" fill="#f86767"/>
<rect x="44.30" y="238.40" width="19.45" height="3.05" fill="#f86060"/>
<rect x="44.30" y="241.40" width="19.45" height="3.05" fill="#f85e5e"/>
<rect x="44.30" y="244.40" width="19.45" height="1.05" fill="#f85d5d"/>
<rect x="44.30" y="245.40" width="19.45" height="2.05" fill="#f85c5c"/>
<rect x="44.30" y="247.40" width="19.45" height="1.05" fill="#f85c5c"/>
<rect x="44.30" y="248.40" width="19.45" height="1.05" fill="#f86a6a"/>
<rect x="44.30" y="249.40" width="19.45" height="1.05" fill="#f86969"/>
<rect x="44.30" y="250.40" width="19.45" height="1.55" fill="#f86868"/>
<rect x="44.30" y="251.90" width="19.45" height="2.05" fill="#f86666"/>
<rect x="44.30" y="253.90" width="19.45" height="2.05" fill="#f85b5b"/>
<rect x="44.30" y="255.90" width="19.45" height="1.55" fill="#f86262"/>
<rect x="44.30" y="257.40" width="19.45" height="1.05" fill="#f86262"/>
<rect x="44.30" y="258.40" width="19.45" height="1.55" fill="#f85b5b"/>
<rect x="44.30" y="259.90" width="19.45" height="1.05" fill="#f86b6b"/>
<rect x="44.30" y="260.90" width="19.45" height="1.05" fill="#f86565"/>
<rect x="44.30" y="261.90" width="19.45" height="2.05" fill="#f86565"/>
<rect x="44.30" y="263.90" width="19.45" height="1.55" fill="#f85d5d"/>
<rect x="44.30" y="265.40" width="19.45" height="2.05" fill="#f85e5e"/>
<rect x="44.30" y="267.40" width="19.45" height="1.55" fill="#f86565"/>
<rect x="44.30" y="268.90" width="19.45" height="2.05" fill="#f86a6a"/>
<rect x="44.30" y="270.90" width="19.45" height="2.05" fill="#f86060"/>
<rect x="44.30" y="272.90" width="19.45" height="2.05" fill="#f85858"/>
<rect x="44.30" y="274.90" width="19.45" height="1.05" fill="#f86363"/>
<rect x="44.30" y="275.90" width="19.45" height="1.05" fill="#f86767"/>
<rect x="44.30" y="276.90" width="19.45" height="2.05" fill="#f85858"/>
<rect x="44.30" y="278.90" width="19.45" height="1.05" fill="#f75757"/>
<rect x="44.30" y="279.90" width="19.45" height="2.05" fill="#f86060"/>
<rect x="44.30" y="281.90" width="19.45" height="1.05" fill="#f86464"/>
<rect x="44.30" y="282.90" width="19.45" height="2.05" fill="#f86161"/>
<rect x="44.30" y="284.90" width="19.45" height="3.05" fill="#f97070"/>
<rect x="44.30" y="287.90" width="19.45" height="2.05" fill="#f86262"/>
<rect x="44.30" y="289.90" width="19.45" height="3.05" fill="#f86464"/>
<rect x="44.30" y="292.90" width="19.45" height="1.05" fill="#f97171"/>
<rect x="44.30" y="293.90" width="19.45" height="3.05" fill="#f86464"/>
<rect x="44.30" y="296.90" width="19.45" height="3.05" fill="#f68d8d"/>
<rect x="44.30" y="299.90" width="19.45" height="1.05" fill="#f39c9c"/>
<rect x="44.30" y="300.90" width="19.45" height="1.05" fill="#f39f9f"/>
<rect x="44.30" y="301.90" width="19.45" height="1.05" fill="#f4a4a4"/>
<rect x="44.30" y="302.90" width="19.45" height="1.55" fill="#f5a7a7"/>
<rect x="44.30" y="304.40" width="19.45" height="1.05" fill="#f5aaaa"/>
<rect x="44.30" y="305.40" width="19.45" height="1.05" fill="#f4a0a0"/>
<rect x="44.30" y="306.40" width="19.45" height="2.05" fill="#f4a0a0"/>
<rect x="44.30" y="308.40" width="19.45" height="2.05" fill="#f39a9a"/>
<rect x="44.30" y="310.40" width="19.45" height="2.05" fill="#f49d9d"/>
<rect x="44.30" y="312.40" width="19.45" height="2.05" fill="#f39c9c"/>
<rect x="44.30" y="314.40" width="19.45" height="1.75" fill="#f4a0a0"/>
<rect x="63.70" y="178.90" width="19.45" height="1.05" fill="#f4b6b6"/>
<rect x="63.70" y="179.90" width="19.45" height="2.05" fill="#f4b5b5"/>
<rect x="63.70" y="181.90" width="19.45" height="1.05" fill="#f4b6b6"/>
<rect x="63.70" y="182.90" width="19.45" height="3.05" fill="#f4b4b4"/>
<rect x="63.70" y="185.90" width="19.45" height="1.05" fill="#f4b6b6"/>
<rect x="63.70" y="186.90" width="19.45" height="1.05" fill="#f5b8b8"/>
<rect x="63.70" y="187.90" width="19.45" height="3.05" fill="#f5b6b6"/>
<rect x="63.70" y="190.90" width="19.45" height="1.05" fill="#f4b2b2"/>
<rect x="63.70" y="191.90" width="19.45" height="1.05" fill="#f5b6b6"/>
<rect x="63.70" y="192.90" width="19.45" height="1.05" fill="#f5b7b7"/>
<rect x="63.70" y="193.90" width="19.45" height="3.05" fill="#f4afaf"/>
<rect x="63.70" y="196.90" width="19.45" height="1.55" fill="#f3abab"/>
<rect x="63.70" y="198.40" width="19.45" height="1.05" fill="#f4b3b3"/>
<rect x="63.70" y="199.40" width="19.45" height="3.05" fill="#f4b1b1"/>
<rect x="63.70" y="202.40" width="19.45" height="1.55" fill="#f4b0b0"/>
<rect x="63.70" y="203.90" width="19.45" height="1.05" fill="#f3a7a7"/>
<rect x="63.70" y="204.90" width="19.45" height="1.55" fill="#f5b4b4"/>
<rect x="63.70" y="206.40" width="19.45" height="2.05" fill="#f4aeae"/>
<rect x="63.70" y="208.40" width="19.45" height="1.05" fill="#f4aeae"/>
<rect x="63.70" y="209.40" width="19.45" height="3.05" fill="#f4aeae"/>
<rect x="63.70" y="212.40" width="19.45" height="2.05" fill="#f4adad"/>
<rect x="63.70" y="214.40" width="19.45" height="2.05" fill="#f4aeae"/>
<rect x="63.70" y="216.40" width="19.45" height="3.05" fill="#f3a3a3"/>
<rect x="63.70" y="219.40" width="19.45" height="2.05" fill="#f5b6b6"/>
<rect x="63.70" y="221.40" width="19.45" height="1.05" fill="#f5b1b1"/>
<rect x="63.70" y="222.40" width="19.45" height="1.55" fill="#f3a6a6"/>
<rect x="63.70" y="223.90" width="19.45" height="2.05" fill="#f4a8a8"/>
<rect x="63.70" y="225.90" width="19.45" height="2.05" fill="#f4a6a6"/>
<rect x="63.70" y="227.90" width="19.45" height="3.05" fill="#f4a8a8"/>
<rect x="63.70" y="230.90" width="19.45" height="1.55" fill="#f59f9f"/>
<rect x="63.70" y="232.40" width="19.45" height="1.05" fill="#f69191"/>
<rect x="63.70" y="233.40" width="19.45" height="1.05" fill="#f88989"/>
<rect x="63.70" y="234.40" width="19.45" height="1.55" fill="#f88f8f"/>
<rect x="63.70" y="235.90" width="19.45" height="2.05" fill="#f88b8b"/>
<rect x="63.70" y="237.90" width="19.45" height="1.05" fill="#f89292"/>
<rect x="63.70" y="238.90" width="19.45" height="2.05" fill="#f88b8b"/>
<rect x="63.70" y="240.90" width="19.45" height="1.05" fill="#f88b8b"/>
<rect x="63.70" y="241.90" width="19.45" height="1.05" fill="#f89292"/>
<rect x="63.70" y="242.90" width="19.45" height="1.55" fill="#f88f8f"/>
<rect x="63.70" y="244.40" width="19.45" height="1.05" fill="#f88f8f"/>
<rect x="63.70" y="245.40" width="19.45" height="1.55" fill="#f88d8d"/>
<rect x="63.70" y="246.90" width="19.45" height="1.05" fill="#f89595"/>
<rect x="63.70" y="247.90" width="19.45" height="2.05" fill="#f89393"/>
<rect x="63.70" y="249.90" width="19.45" height="2.05" fill="#f88f8f"/>
<rect x="63.70" y="251.90" width="19.45" height="1.05" fill="#f88b8b"/>
<rect x="63.70" y="252.90" width="19.45" height="1.55" fill="#f89797"/>
<rect x="63.70" y="254.40" width="19.45" height="2.05" fill="#f88f8f"/>
<rect x="63.70" y="256.40" width="19.45" height="1.05" fill="#f89292"/>
<rect x="63.70" y="257.40" width="19.45" height="1.05" fill="#f89393"/>
<rect x="63.70" y="258.40" width="19.45" height="2.05" fill="#f88b8b"/>
<rect x="63.70" y="260.40" width="19.45" height="1.55" fill="#f88f8f"/>
<rect x="63.70" y="261.90" width="19.45" height="2.05" fill="#f78a8a"/>
<rect x="63.70" y="263.90" width="19.45" height="2.05" fill="#f88f8f"/>
<rect x="63.70" y="265.90" width="19.45" height="2.05" fill="#f89292"/>
<rect x="63.70" y="267.90" width="19.45" height="1.05" fill="#f88f8f"/>
<rect x="63.70" y="268.90" width="19.45" height="2.05" fill="#f88b8b"/>
<rect x="63.70" y="270.90" width="19.45" height="1.05" fill="#f89595"/>
<rect x="63.70" y="271.90" width="19.45" height="1.05" fill="#f89393"/>
<rect x="63.70" y="272.90" width="19.45" height="1.55" fill="#f88e8e"/>
<rect x="63.70" y="274.40" width="19.45" height="2.05" fill="#f88d8d"/>
<rect x="63.70" y="276.40" width="19.45" height="2.05" fill="#f89999"/>
<rect x="63.70" y="278.40" width="19.45" height="1.05" fill="#f88d8d"/>
<rect x="63.70" y="279.40" width="19.45" height="1.05" fill="#f88f8f"/>
<rect x="63.70" y="280.40" width="19.45" height="3.05" fill="#f88f8f"/>
<rect x="63.70" y="283.40" width="19.45" height="1.55" fill="#f78686"/>
<rect x="63.70" y="284.90" width="19.45" height="3.05" fill="#f89393"/>
<rect x="63.70" y="287.90" width="19.45" height="1.55" fill="#f89797"/>
<rect x="63.70" y="289.40" width="19.45" height="2.05" fill="#f88f8f"/>
<rect x="63.70" y="291.40" width="19.45" height="2.05" fill="#f89393"/>
<rect x="63.70" y="293.40" width="19.45" height="3.05" fill="#f89393"/>
<rect x="63.70" y="296.40" width="19.45" height="1.55" fill="#f79595"/>
<rect x="63.70" y="297.90" width="19.45" height="1.05" fill="#f6a8a8"/>
<rect x="63.70" y="298.90" width="19.45" height="3.05" fill="#f4b5b5"/>
<rect x="63.70" y="301.90" width="19.45" height="1.55" fill="#f5bcbc"/>
<rect x="63.70" y="303.40" width="19.45" height="2.05" fill="#f4b6b6"/>
<rect x="63.70" y="305.40" width="19.45" height="1.05" fill="#f2acac"/>
<rect x="63.70" y="306.40" width="19.45" height="2.05" fill="#f4b9b9"/>
<rect x="63.70" y="308.40" width="19.45" height="1.05" fill="#f3afaf"/>
<rect x="63.70" y="309.40" width="19.45" height="1.05" fill="#f2abab"/>
<rect x="63.70" y="310.40" width="19.45" height="1.55" fill="#f3afaf"/>
<rect x="63.70" y="311.90" width="19.45" height="1.05" fill="#f3aeae"/>
<rect x="63.70" y="312.90" width="19.45" height="2.05" fill="#f4b5b5"/>
<rect x="63.70" y="314.90" width="19.45" height="1.25" fill="#f5b9b9"/>
<rect x="83.10" y="178.90" width="19.45" height="1.05" fill="#4e4ed8"/>
<rect x="83.10" y="179.90" width="19.45" height="1.05" fill="#4a4ad7"/>
<rect x="83.10" y="180.90" width="19.45" height="1.05" fill="#4b4bd8"/>
<rect x="83.10" y="181.90" width="19.45" height="1.05" fill="#5151d9"/>
<rect x="83.10" y="182.90" width="19.45" height="2.05" fill="#4b4bd8"/>
<rect x="83.10" y="184.90" width="19.45" height="1.55" fill="#4e4ed8"/>
<rect x="83.10" y="186.40" width="19.45" height="1.05" fill="#4d4dd8"/>
<rect x="83.10" y="187.40" width="19.45" height="2.05" fill="#5050d9"/>
<rect x="83.10" y="189.40" width="19.45" height="2.05" fill="#4f4fd9"/>
<rect x="83.10" y="191.40" width="19.45" height="1.05" fill="#4f4fd9"/>
<rect x="83.10" y="192.40" width="19.45" height="1.55" fill="#5353d9"/>
<rect x="83.10" y="193.90" width="19.45" height="2.05" fill="#4f4fd9"/>
<rect x="83.10" y="195.90" width="19.45" height="1.05" fill="#4242d6"/>
<rect x="83.10" y="196.90" width="19.45" height="1.05" fill="#5252d9"/>
<rect x="83.10" y="197.90" width="19.45" height="3.05" fill="#4040d5"/>
<rect x="83.10" y="200.90" width="19.45" height="2.05" fill="#4242d6"/>
<rect x="83.10" y="202.90" width="19.45" height="1.55" fill="#5454da"/>
<rect x="83.10" y="204.40" width="19.45" height="2.05" fill="#4d4dd8"/>
<rect x="83.10" y="206.40" width="19.45" height="1.55" fill="#4b4bd8"/>
<rect x="83.10" y="207.90" width="19.45" height="2.05" fill="#5454da"/>
<rect x="83.10" y="209.90" width="19.45" height="1.05" fill="#4c4cd8"/>
<rect x="83.10" y="210.90" width="19.45" height="2.05" fill="#5151d9"/>
<rect x="83.10" y="212.90" width="19.45" height="1.05" fill="#4646d7"/>
<rect x="83.10" y="213.90" width="19.45" height="1.05" fill="#5959db"/>
<rect x="83.10" y="214.90" width="19.45" height="2.05" fill="#4c4cd8"/>
<rect x="83.10" y="216.90" width="19.45" height="1.55" fill="#5454da"/>
<rect x="83.10" y="218.40" width="19.45" height="1.05" fill="#5252d9"/>
<rect x="83.10" y="219.40" width="19.45" height="1.05" fill="#4d4dd8"/>
<rect x="83.10" y="220.40" width="19.45" height="1.55" fill="#4b4bd8"/>
<rect x="83.10" y="221.90" width="19.45" height="2.05" fill="#5b5bdb"/>
<rect x="83.10" y="223.90" width="19.45" height="2.05" fill="#4e4ed8"/>
<rect x="83.10" y="225.90" width="19.45" height="1.55" fill="#5050d9"/>
<rect x="83.10" y="227.40" width="19.45" height="2.05" fill="#4949d7"/>
<rect x="83.10" y="229.40" width="19.45" height="1.55" fill="#4949d7"/>
<rect x="83.10" y="230.90" width="19.45" height="1.05" fill="#4545d6"/>
<rect x="83.10" y="231.90" width="19.45" height="1.05" fill="#5858db"/>
<rect x="83.10" y="232.90" width="19.45" height="3.05" fill="#4d4dd8"/>
<rect x="83.10" y="235.90" width="19.45" height="3.05" fill="#4f4fd8"/>
<rect x="83.10" y="238.90" width="19.45" height="2.05" fill="#4040d5"/>
<rect x="83.10" y="240.90" width="19.45" height="3.05" fill="#4a4ad7"/>
<rect x="83.10" y="243.90" width="19.45" height="2.05" fill="#5555da"/>
<rect x="83.10" y="245.90" width="19.45" height="1.05" fill="#4747d7"/>
<rect x="83.10" y="246.90" width="19.45" height="1.05" fill="#4949d7"/>
<rect x="83.10" y="247.90" width="19.45" height="2.05" fill="#4444d6"/>
<rect x="83.10" y="249.90" width="19.45" height="1.05" fill="#4f4fd8"/>
<rect x="83.10" y="250.90" width="19.45" height="1.55" fill="#5959db"/>
<rect x="83.10" y="252.40" width="19.45" height="2.05" fill="#4e4ed8"/>
<rect x="83.10" y="254.40" width="19.45" height="2.05" fill="#5353d9"/>
<rect x="83.10" y="256.40" width="19.45" height="1.05" fill="#4747d7"/>
<rect x="83.10" y="257.40" width="19.45" height="2.05" fill="#4b4bd8"/>
<rect x="83.10" y="259.40" width="19.45" height="1.55" fill="#4d4dd8"/>
<rect x="83.10" y="260.90" width="19.45" height="2.05" fill="#4545d6"/>
<rect x="83.10" y="262.90" width="19.45" height="1.05" fill="#5a5adb"/>
<rect x="83.10" y="263.90" width="19.45" height="1.05" fill="#4949d7"/>
<rect x="83.10" y="264.90" width="19.45" height="1.05" fill="#4949d7"/>
<rect x="83.10" y="265.90" width="19.45" height="2.05" fill="#4a4ad7"/>
<rect x="83.10" y="267.90" width="19.45" height="2.05" fill="#4141d5"/>
<rect x="83.10" y="269.90" width="19.45" height="2.05" fill="#5151d9"/>
<rect x="83.10" y="271.90" width="19.45" height="1.55" fill="#4646d6"/>
<rect x="83.10" y="273.40" width="19.45" height="1.55" fill="#4d4dd8"/>
<rect x="83.10" y="274.90" width="19.45" height="2.05" fill="#6161dc"/>
<rect x="83.10" y="276.90" width="19.45" height="1.55" fill="#5353d9"/>
<rect x="83.10" y="278.40" width="19.45" height="2.05" fill="#4848d7"/>
<rect x="83.10" y="280.40" width="19.45" height="1.05" fill="#5555da"/>
<rect x="83.10" y="281.40" width="19.45" height="2.05" fill="#5454da"/>
<rect x="83.10" y="283.40" width="19.45" height="2.05" fill="#4848d7"/>
<rect x="83.10" y="285.40" width="19.45" height="2.05" fill="#4848d7"/>
<rect x="83.10" y="287.40" width="19.45" height="1.05" fill="#5f5fdc"/>
<rect x="83.10" y="288.40" width="19.45" height="3.05" fill="#4646d6"/>
<rect x="83.10" y="291.40" width="19.45" height="3.05" fill="#5050d9"/>
<rect x="83.10" y="294.40" width="19.45" height="1.05" fill="#4c4cd8"/>
<rect x="83.10" y="295.40" width="19.45" height="2.05" fill="#4d4dd8"/>
<rect x="83.10" y="297.40" width="19.45" height="1.05" fill="#5454d9"/>
<rect x="83.10" y="298.40" width="19.45" height="1.05" fill="#4f4fd8"/>
<rect x="83.10" y="299.40" width="19.45" height="2.05" fill="#4141d5"/>
<rect x="83.10" y="301.40" width="19.45" height="1.05" fill="#4c4cd8"/>
<rect x="83.10" y="302.40" width="19.45" height="2.05" fill="#5656da"/>
<rect x="83.10" y="304.40" width="19.45" height="1.55" fill="#4d4dd8"/>
<rect x="83.10" y="305.90" width="19.45" height="3.05" fill="#5d5ddb"/>
<rect x="83.10" y="308.90" width="19.45" height="2.05" fill="#4d4dd8"/>
<rect x="83.10" y="310.90" width="19.45" height="1.05" fill="#4949d7"/>
<rect x="83.10" y="311.90" width="19.45" height="2.05" fill="#4040d5"/>
<rect x="83.10" y="313.90" width="19.45" height="1.55" fill="#5050d8"/>
<rect x="83.10" y="315.40" width="19.45" height="0.75" fill="#5050d8"/>
<rect x="102.50" y="178.90" width="19.45" height="1.05" fill="#6a6add"/>
<rect x="102.50" y="179.90" width="19.45" height="1.05" fill="#5c5cda"/>
<rect x="102.50" y="180.90" width="19.45" height="1.05" fill="#6060db"/>
<rect x="102.50" y="181.90" width="19.45" height="2.05" fill="#6464db"/>
<rect x="102.50" y="183.90" width="19.45" height="1.05" fill="#6969dd"/>
<rect x="102.50" y="184.90" width="19.45" height="1.05" fill="#6767dc"/>
<rect x="102.50" y="185.90" width="19.45" height="1.55" fill="#6363db"/>
<rect x="102.50" y="187.40" width="19.45" height="2.05" fill="#6767dc"/>
<rect x="102.50" y="189.40" width="19.45" height="1.05" fill="#5f5fda"/>
<rect x="102.50" y="190.40" width="19.45" height="1.05" fill="#6868dc"/>
<rect x="102.50" y="191.40" width="19.45" height="3.05" fill="#6b6bdd"/>
<rect x="102.50" y="194.40" width="19.45" height="1.55" fill="#6767dc"/>
<rect x="102.50" y="195.90" width="19.45" height="2.05" fill="#6666dc"/>
<rect x="102.50" y="197.90" width="19.45" height="2.05" fill="#7272df"/>
<rect x="102.50" y="199.90" width="19.45" height="3.05" fill="#6161db"/>
<rect x="102.50" y="202.90" width="19.45" height="1.05" fill="#6f6fde"/>
<rect x="102.50" y="203.90" width="19.45" height="2.05" fill="#7171de"/>
<rect x="102.50" y="205.90" width="19.45" height="2.05" fill="#6c6cdd"/>
<rect x="102.50" y="207.90" width="19.45" height="1.55" fill="#6565db"/>
<rect x="102.50" y="209.40" width="19.45" height="2.05" fill="#6767dc"/>
<rect x="102.50" y="211.40" width="19.45" height="1.55" fill="#6565db"/>
<rect x="102.50" y="212.90" width="19.45" height="2.05" fill="#6161db"/>
<rect x="102.50" y="214.90" width="19.45" height="3.05" fill="#6868dc"/>
<rect x="102.50" y="217.90" width="19.45" height="2.05" fill="#7272de"/>
<rect x="102.50" y="219.90" width="19.45" height="1.55" fill="#6d6ddd"/>
<rect x="102.50" y="221.40" width="19.45" height="2.05" fill="#6767dc"/>
<rect x="102.50" y="223.40" width="19.45" height="1.05" fill="#6a6add"/>
<rect x="102.50" y="224.40" width="19.45" height="2.05" fill="#6464db"/>
<rect x="102.50" y="226.40" width="19.45" height="1.55" fill="#7575df"/>
<rect x="102.50" y="227.90" width="19.45" height="1.05" fill="#6a6add"/>
<rect x="102.50" y="228.90" width="19.45" height="1.55" fill="#7171de"/>
<rect x="102.50" y="230.40" width="19.45" height="1.55" fill="#6767dc"/>
<rect x="102.50" y="231.90" width="19.45" height="2.05" fill="#6e6ede"/>
<rect x="102.50" y="233.90" width="19.45" height="2.05" fill="#6969dc"/>
<rect x="102.50" y="235.90" width="19.45" height="1.05" fill="#6d6ddd"/>
<rect x="102.50" y="236.90" width="19.45" height="3.05" fill="#6565db"/>
<rect x="102.50" y="239.90" width="19.45" height="1.05" fill="#7171de"/>
<rect x="102.50" y="240.90" width="19.45" height="2.05" fill="#5e5eda"/>
<rect x="102.50" y="242.90" width="19.45" height="1.05" fill="#5d5dd9"/>
<rect x="102.50" y="243.90" width="19.45" height="2.05" fill="#6565db"/>
<rect x="102.50" y="245.90" width="19.45" height="2.05" fill="#7272de"/>
<rect x="102.50" y="247.90" width="19.45" height="1.05" fill="#6c6cdd"/>
<rect x="102.50" y="248.90" width="19.45" height="1.55" fill="#5e5eda"/>
<rect x="102.50" y="250.40" width="19.45" height="1.05" fill="#6b6bdd"/>
<rect x="102.50" y="251.40" width="19.45" height="1.55" fill="#5f5fda"/>
<rect x="102.50" y="252.90" width="19.45" height="2.05" fill="#7373de"/>
<rect x="102.50" y="254.90" width="19.45" height="2.05" fill="#7171de"/>
<rect x="102.50" y="256.90" width="19.45" height="1.05" fill="#6a6adc"/>
<rect x="102.50" y="257.90" width="19.45" height="1.05" fill="#6a6adc"/>
<rect x="102.50" y="258.90" width="19.45" height="3.05" fill="#6969dc"/>
<rect x="102.50" y="261.90" width="19.45" height="1.05" fill="#6565db"/>
<rect x="102.50" y="262.90" width="19.45" height="3.05" fill="#6666db"/>
<rect x="102.50" y="265.90" width="19.45" height="1.05" fill="#6464db"/>
<rect x="102.50" y="266.90" width="19.45" height="1.05" fill="#6565db"/>
<rect x="102.50" y="267.90" width="19.45" height="1.05" fill="#6d6ddd"/>
<rect x="102.50" y="268.90" width="19.45" height="3.05" fill="#6969dc"/>
<rect x="102.50" y="271.90" width="19.45" height="2.05" fill="#6565db"/>
<rect x="102.50" y="273.90" width="19.45" height="1.05" fill="#7070de"/>
<rect x="102.50" y="274.90" width="19.45" height="2.05" fill="#6363db"/>
<rect x="102.50" y="276.90" width="19.45" height="1.05" fill="#6161da"/>
<rect x="102.50" y="277.90" width="19.45" height="2.05" fill="#6a6adc"/>
<rect x="102.50" y="279.90" width="19.45" height="1.05" fill="#6c6cdd"/>
<rect x="102.50" y="280.90" width="19.45" height="3.05" fill="#6868dc"/>
<rect x="102.50" y="283.90" width="19.45" height="1.55" fill="#6666db"/>
<rect x="102.50" y="285.40" width="19.45" height="1.05" fill="#6565db"/>
<rect x="102.50" y="286.40" width="19.45" height="2.05" fill="#6a6adc"/>
<rect x="102.50" y="288.40" width="19.45" height="1.05" fill="#6b6bdc"/>
<rect x="102.50" y="289.40" width="19.45" height="2.05" fill="#6767db"/>
<rect x="102.50" y="291.40" width="19.45" height="1.05" fill="#6d6ddd"/>
<rect x="102.50" y="292.40" width="19.45" height="1.05" fill="#7171de"/>
<rect x="102.50" y="293.40" width="19.45" height="2.05" fill="#6868dc"/>
<rect x="102.50" y="295.40" width="19.45" height="2.05" fill="#6464db"/>
<rect x="102.50" y="297.40" width="19.45" height="2.05" fill="#6464db"/>
<rect x="102.50" y="299.40" width="19.45" height="1.05" fill="#7676df"/>
<rect x="102.50" y="300.40" width="19.45" height="2.05" fill="#6b6bdc"/>
<rect x="102.50" y="302.40" width="19.45" height="2.05" fill="#6666db"/>
<rect x="102.50" y="304.40" width="19.45" height="2.05" fill="#7070dd"/>
<rect x="102.50" y="306.40" width="19.45" height="1.05" fill="#6d6ddd"/>
<rect x="102.50" y="307.40" width="19.45" height="1.05" fill="#6e6edd"/>
<rect x="102.50" y="308.40" width="19.45" height="1.55" fill="#7373de"/>
<rect x="102.50" y="309.90" width="19.45" height="2.05" fill="#6868db"/>
<rect x="102.50" y="311.90" width="19.45" height="1.05" fill="#6565db"/>
<rect x="102.50" y="312.90" width="19.45" height="1.55" fill="#6d6ddd"/>
<rect x="102.50" y="314.40" width="19.45" height="1.55" fill="#6b6bdc"/>
<rect x="102.50" y="315.90" width="19.45" height="0.25" fill="#6565db"/>
<rect x="121.90" y="178.90" width="19.45" height="1.05" fill="#f86868"/>
<rect x="121.90" y="179.90" width="19.45" height="1.05" fill="#f97878"/>
<rect x="121.90" y="180.90" width="19.45" height="2.05" fill="#f87070"/>
<rect x="121.90" y="182.90" width="19.45" height="1.05" fill="#f87676"/>
<rect x="121.90" y="183.90" width="19.45" height="2.05" fill="#f86666"/>
<rect x="121.90" y="185.90" width="19.45" height="2.05" fill="#f86d6d"/>
<rect x="121.90" y="187.90" width="19.45" height="1.05" fill="#f86b6b"/>
<rect x="121.90" y="188.90" width="19.45" height="3.05" fill="#f87575"/>
<rect x="121.90" y="191.90" width="19.45" height="2.05" fill="#f87272"/>
<rect x="121.90" y="193.90" width="19.45" height="1.55" fill="#f87474"/>
<rect x="121.90" y="195.40" width="19.45" height="1.05" fill="#f86868"/>
<rect x="121.90" y="196.40" width="19.45" height="1.05" fill="#f86767"/>
<rect x="121.90" y="197.40" width="19.45" height="3.05" fill="#f86868"/>
<rect x="121.90" y="200.40" width="19.45" height="2.05" fill="#f87979"/>
<rect x="121.90" y="202.40" width="19.45" height="1.05" fill="#f87676"/>
<rect x="121.90" y="203.40" width="19.45" height="1.05" fill="#f86f6f"/>
<rect x="121.90" y="204.40" width="19.45" height="1.05" fill="#f87373"/>
<rect x="121.90" y="205.40" width="19.45" height="1.05" fill="#f87272"/>
<rect x="121.90" y="206.40" width="19.45" height="1.55" fill="#f87b7b"/>
<rect x="121.90" y="207.90" width="19.45" height="3.05" fill="#f87676"/>
<rect x="121.90" y="210.90" width="19.45" height="3.05" fill="#f87373"/>
<rect x="121.90" y="213.90" width="19.45" height="1.55" fill="#f87070"/>
<rect x="121.90" y="215.40" width="19.45" height="3.05" fill="#f87575"/>
<rect x="121.90" y="218.40" width="19.45" height="1.05" fill="#f86e6e"/>
<rect x="121.90" y="219.40" width="19.45" height="3.05" fill="#f87070"/>
<rect x="121.90" y="222.40" width="19.45" height="2.05" fill="#f87f7f"/>
<rect x="121.90" y="224.40" width="19.45" height="2.05" fill="#f87e7e"/>
<rect x="121.90" y="226.40" width="19.45" height="3.05" fill="#f88a8a"/>
<rect x="121.90" y="229.40" width="19.45" height="2.05" fill="#f7c7c7"/>
<rect x="121.90" y="231.40" width="19.45" height="3.05" fill="#f9d0d0"/>
<rect x="121.90" y="234.40" width="19.45" height="2.05" fill="#f8caca"/>
<rect x="121.90" y="236.40" width="19.45" height="1.55" fill="#f8cece"/>
<rect x="121.90" y="237.90" width="19.45" height="3.05" fill="#f9d0d0"/>
<rect x="121.90" y="240.90" width="19.45" height="1.05" fill="#f8caca"/>
<rect x="121.90" y="241.90" width="19.45" height="2.05" fill="#f7c7c7"/>
<rect x="121.90" y="243.90" width="19.45" height="2.05" fill="#f9d4d4"/>
<rect x="121.90" y="245.90" width="19.45" height="1.05" fill="#f8cece"/>
<rect x="121.90" y="246.90" width="19.45" height="3.05" fill="#f7c3c3"/>
<rect x="121.90" y="249.90" width="19.45" height="2.05" fill="#f8c7c7"/>
<rect x="121.90" y="251.90" width="19.45" height="1.05" fill="#f7c6c6"/>
<rect x="121.90" y="252.90" width="19.45" height="1.55" fill="#f8c8c8"/>
<rect x="121.90" y="254.40" width="19.45" height="1.05" fill="#f8cbcb"/>
<rect x="121.90" y="255.40" width="19.45" height="2.05" fill="#fad9d9"/>
<rect x="121.90" y="257.40" width="19.45" height="1.55" fill="#f9d1d1"/>
<rect x="121.90" y="258.90" width="19.45" height="2.05" fill="#f7bfbf"/>
<rect x="121.90" y="260.90" width="19.45" height="3.05" fill="#f8cdcd"/>
<rect x="121.90" y="263.90" width="19.45" height="3.05" fill="#f9d2d2"/>
<rect x="121.90" y="266.90" width="19.45" height="1.05" fill="#f8c7c7"/>
<rect x="121.90" y="267.90" width="19.45" height="1.05" fill="#f7c3c3"/>
<rect x="121.90" y="268.90" width="19.45" height="1.05" fill="#f9cece"/>
<rect x="121.90" y="269.90" width="19.45" height="1.55" fill="#f9d3d3"/>
<rect x="121.90" y="271.40" width="19.45" height="1.05" fill="#f8cbcb"/>
<rect x="121.90" y="272.40" width="19.45" height="1.05" fill="#f8cbcb"/>
<rect x="121.90" y="273.40" width="19.45" height="1.05" fill="#f8cdcd"/>
<rect x="121.90" y="274.40" width="19.45" height="1.55" fill="#f8caca"/>
<rect x="121.90" y="275.90" width="19.45" height="3.05" fill="#f8caca"/>
<rect x="121.90" y="278.90" width="19.45" height="1.05" fill="#f9cfcf"/>
<rect x="121.90" y="279.90" width="19.45" height="3.05" fill="#f8c5c5"/>
<rect x="121.90" y="282.90" width="19.45" height="1.55" fill="#f8cccc"/>
<rect x="121.90" y="284.40" width="19.45" height="3.05" fill="#f9cece"/>
<rect x="121.90" y="287.40" width="19.45" height="1.05" fill="#f8caca"/>
<rect x="121.90" y="288.40" width="19.45" height="1.05" fill="#f7c0c0"/>
<rect x="121.90" y="289.40" width="19.45" height="2.05" fill="#f6bcbc"/>
<rect x="121.90" y="291.40" width="19.45" height="1.05" fill="#f7c2c2"/>
<rect x="121.90" y="292.40" width="19.45" height="1.05" fill="#f8caca"/>
<rect x="121.90" y="293.40" width="19.45" height="1.55" fill="#f8c6c6"/>
<rect x="121.90" y="294.90" width="19.45" height="1.05" fill="#f7bdbd"/>
<rect x="121.90" y="295.90" width="19.45" height="2.05" fill="#f4a2a2"/>
<rect x="121.90" y="297.90" width="19.45" height="1.05" fill="#f4a3a3"/>
<rect x="121.90" y="298.90" width="19.45" height="2.05" fill="#f39c9c"/>
<rect x="121.90" y="300.90" width="19.45" height="3.05" fill="#f4a5a5"/>
<rect x="121.90" y="303.90" width="19.45" height="3.05" fill="#f39d9d"/>
<rect x="121.90" y="306.90" width="19.45" height="2.05" fill="#f49f9f"/>
<rect x="121.90" y="308.90" width="19.45" height="2.05" fill="#f4a6a6"/>
<rect x="121.90" y="310.90" width="19.45" height="1.55" fill="#f4a0a0"/>
<rect x="121.90" y="312.40" width="19.45" height="3.05" fill="#f4a2a2"/>
<rect x="121.90" y="315.40" width="19.45" height="0.75" fill="#f39e9e"/>
<rect x="141.30" y="178.90" width="19.45" height="1.05" fill="#f38f8f"/>
<rect x="141.30" y="179.90" width="19.45" height="1.05" fill="#f49292"/>
<rect x="141.30" y="180.90" width="19.45" height="2.05" fill="#f38e8e"/>
<rect x="141.30" y="182.90" width="19.45" height="3.05" fill="#f49393"/>
<rect x="141.30" y="185.90" width="19.45" height="3.05" fill="#f49999"/>
<rect x="141.30" y="188.90" width="19.45" height="1.55" fill="#f49393"/>
<rect x="141.30" y="190.40" width="19.45" height="1.55" fill="#f49292"/>
<rect x="141.30" y="191.90" width="19.45" height="1.55" fill="#f59d9d"/>
<rect x="141.30" y="193.40" width="19.45" height="1.05" fill="#f49797"/>
<rect x="141.30" y="194.40" width="19.45" height="3.05" fill="#f5a1a1"/>
<rect x="141.30" y="197.40" width="19.45" height="1.05" fill="#f49898"/>
<rect x="141.30" y="198.40" width="19.45" height="1.05" fill="#f39292"/>
<rect x="141.30" y="199.40" width="19.45" height="2.05" fill="#f39090"/>
<rect x="141.30" y="201.40" width="19.45" height="1.05" fill="#f49898"/>
<rect x="141.30" y="202.40" width="19.45" height="3.05" fill="#f39292"/>
<rect x="141.30" y="205.40" width="19.45" height="2.05" fill="#f49898"/>
<rect x="141.30" y="207.40" width="19.45" height="1.05" fill="#f38d8d"/>
<rect x="141.30" y="208.40" width="19.45" height="2.05" fill="#f49999"/>
<rect x="141.30" y="210.40" width="19.45" height="1.55" fill="#f49797"/>
<rect x="141.30" y="211.90" width="19.45" height="1.55" fill="#f49b9b"/>
<rect x="141.30" y="213.40" width="19.45" height="1.05" fill="#f39393"/>
<rect x="141.30" y="214.40" width="19.45" height="1.05" fill="#f5a3a3"/>
<rect x="141.30" y="215.40" width="19.45" height="1.05" fill="#f49e9e"/>
<rect x="141.30" y="216.40" width="19.45" height="1.05" fill="#f49c9c"/>
<rect x="141.30" y="217.40" width="19.45" height="2.05" fill="#f5a7a7"/>
<rect x="141.30" y="219.40" width="19.45" height="3.05" fill="#f39494"/>
<rect x="141.30" y="222.40" width="19.45" height="2.05" fill="#f49c9c"/>
<rect x="141.30" y="224.40" width="19.45" height="1.05" fill="#f49e9e"/>
<rect x="141.30" y="225.40" width="19.45" height="1.55" fill="#f49c9c"/>
<rect x="141.30" y="226.90" width="19.45" height="1.55" fill="#f39696"/>
<rect x="141.30" y="228.40" width="19.45" height="3.05" fill="#f49c9c"/>
<rect x="141.30" y="231.40" width="19.45" height="3.05" fill="#f7c8c8"/>
<rect x="141.30" y="234.40" width="19.45" height="1.05" fill="#f8dddd"/>
<rect x="141.30" y="235.40" width="19.45" height="1.05" fill="#f9e2e2"/>
<rect x="141.30" y="236.40" width="19.45" height="1.55" fill="#f7d8d8"/>
<rect x="141.30" y="237.90" width="19.45" height="1.05" fill="#f8dddd"/>
<rect x="141.30" y="238.90" width="19.45" height="2.05" fill="#f8dbdb"/>
<rect x="141.30" y="240.90" width="19.45" height="1.05" fill="#f6d0d0"/>
<rect x="141.30" y="241.90" width="19.45" height="1.05" fill="#f8d9da"/>
<rect x="141.30" y="242.90" width="19.45" height="1.05" fill="#f9e1e1"/>
<rect x="141.30" y="243.90" width="19.45" height="1.55" fill="#f8dadb"/>
<rect x="141.30" y="245.40" width="19.45" height="2.05" fill="#f7d6d7"/>
<rect x="141.30" y="247.40" width="19.45" height="1.05" fill="#f7d5d6"/>
<rect x="141.30" y="248.40" width="19.45" height="2.05" fill="#f8dede"/>
<rect x="141.30" y="250.40" width="19.45" height="2.05" fill="#f9e2e2"/>
<rect x="141.30" y="252.40" width="19.45" height="1.05" fill="#f8dadc"/>
<rect x="141.30" y="253.40" width="19.45" height="3.05" fill="#f9e1e2"/>
<rect x="141.30" y="256.40" width="19.45" height="2.05" fill="#f8dadc"/>
<rect x="141.30" y="258.40" width="19.45" height="1.05" fill="#f8dadb"/>
<rect x="141.30" y="259.40" width="19.45" height="2.05" fill="#f9dee0"/>
<rect x="141.30" y="261.40" width="19.45" height="1.05" fill="#f7d5d7"/>
<rect x="141.30" y="262.40" width="19.45" height="1.05" fill="#f8d8da"/>
<rect x="141.30" y="263.40" width="19.45" height="1.05" fill="#f9e2e3"/>
<rect x="141.30" y="264.40" width="19.45" height="2.05" fill="#f7d4d6"/>
<rect x="141.30" y="266.40" width="19.45" height="1.05" fill="#f6d2d4"/>
<rect x="141.30" y="267.40" width="19.45" height="1.05" fill="#f9dfe1"/>
<rect x="141.30" y="268.40" width="19.45" height="1.55" fill="#f8d9db"/>
<rect x="141.30" y="269.90" width="19.45" height="1.55" fill="#f8dcde"/>
<rect x="141.30" y="271.40" width="19.45" height="1.55" fill="#f9dee0"/>
<rect x="141.30" y="272.90" width="19.45" height="2.05" fill="#f8dcde"/>
<rect x="141.30" y="274.90" width="19.45" height="2.05" fill="#f9dcdf"/>
<rect x="141.30" y="276.90" width="19.45" height="2.05" fill="#f8d8da"/>
<rect x="141.30" y="278.90" width="19.45" height="3.05" fill="#f9dee1"/>
<rect x="141.30" y="281.90" width="19.45" height="1.05" fill="#f7d2d6"/>
<rect x="141.30" y="282.90" width="19.45" height="2.05" fill="#f8d8db"/>
<rect x="141.30" y="284.90" width="19.45" height="1.05" fill="#f9dde0"/>
<rect x="141.30" y="285.90" width="19.45" height="1.05" fill="#f7d2d6"/>
<rect x="141.30" y="286.90" width="19.45" height="3.05" fill="#f9dde0"/>
<rect x="141.30" y="289.90" width="19.45" height="1.05" fill="#f8d8dc"/>
<rect x="141.30" y="290.90" width="19.45" height="1.55" fill="#f5c7cc"/>
<rect x="141.30" y="292.40" width="19.45" height="1.05" fill="#f7d5d9"/>
<rect x="141.30" y="293.40" width="19.45" height="2.05" fill="#f8d7db"/>
<rect x="141.30" y="295.40" width="19.45" height="1.05" fill="#f9dee2"/>
<rect x="141.30" y="296.40" width="19.45" height="2.05" fill="#f8d7da"/>
<rect x="141.30" y="298.40" width="19.45" height="2.05" fill="#f4bfbf"/>
<rect x="141.30" y="300.40" width="19.45" height="1.05" fill="#f4c3c3"/>
<rect x="141.30" y="301.40" width="19.45" height="2.05" fill="#f5c4c4"/>
<rect x="141.30" y="303.40" width="19.45" height="1.55" fill="#f3bbbb"/>
<rect x="141.30" y="304.90" width="19.45" height="2.05" fill="#f4bfbf"/>
<rect x="141.30" y="306.90" width="19.45" height="3.05" fill="#f3baba"/>
<rect x="141.30" y="309.90" width="19.45" height="2.05" fill="#f3bfbf"/>
<rect x="141.30" y="311.90" width="19.45" height="1.55" fill="#f4c4c4"/>
<rect x="141.30" y="313.40" width="19.45" height="1.55" fill="#f4c5c5"/>
<rect x="141.30" y="314.90" width="19.45" height="1.25" fill="#f3bdbd"/>
<rect x="44.30" y="318.60" width="19.45" height="1.05" fill="#f43d3d"/>
<rect x="44.30" y="319.60" width="19.45" height="1.05" fill="#f44040"/>
<rect x="44.30" y="320.60" width="19.45" height="1.55" fill="#f44c4c"/>
<rect x="44.30" y="322.10" width="19.45" height="1.05" fill="#f43d3d"/>
<rect x="44.30" y="323.10" width="19.45" height="1.05" fill="#f33a3a"/>
<rect x="44.30" y="324.10" width="19.45" height="1.05" fill="#f44040"/>
<rect x="44.30" y="325.10" width="19.45" height="3.05" fill="#f43c3c"/>
<rect x="44.30" y="328.10" width="19.45" height="1.05" fill="#f33838"/>
<rect x="44.30" y="329.10" width="19.45" height="1.05" fill="#f44242"/>
<rect x="44.30" y="330.10" width="19.45" height="3.05" fill="#f43e3e"/>
<rect x="44.30" y="333.10" width="19.45" height="3.05" fill="#f44343"/>
<rect x="44.30" y="336.10" width="19.45" height="1.55" fill="#f55050"/>
<rect x="44.30" y="337.60" width="19.45" height="1.55" fill="#f33939"/>
<rect x="44.30" y="339.10" width="19.45" height="2.05" fill="#f44a4a"/>
<rect x="44.30" y="341.10" width="19.45" height="1.05" fill="#f43a3a"/>
<rect x="44.30" y="342.10" width="19.45" height="1.05" fill="#f54b4b"/>
<rect x="44.30" y="343.10" width="19.45" height="3.05" fill="#f44848"/>
<rect x="44.30" y="346.10" width="19.45" height="1.55" fill="#f33838"/>
<rect x="44.30" y="347.60" width="19.45" height="2.05" fill="#f54b4b"/>
<rect x="44.30" y="349.60" width="19.45" height="3.05" fill="#f43c3c"/>
<rect x="44.30" y="352.60" width="19.45" height="3.05" fill="#f43e3e"/>
<rect x="44.30" y="355.60" width="19.45" height="2.05" fill="#f33030"/>
<rect x="44.30" y="357.60" width="19.45" height="2.05" fill="#f55353"/>
<rect x="44.30" y="359.60" width="19.45" height="1.55" fill="#f43e3e"/>
<rect x="44.30" y="361.10" width="19.45" height="3.05" fill="#f44141"/>
<rect x="44.30" y="364.10" width="19.45" height="2.05" fill="#f44545"/>
<rect x="44.30" y="366.10" width="19.45" height="1.05" fill="#f44545"/>
<rect x="44.30" y="367.10" width="19.45" height="1.05" fill="#f43d3d"/>
<rect x="44.30" y="368.10" width="19.45" height="1.05" fill="#f43b3b"/>
<rect x="63.70" y="318.60" width="19.45" height="1.05" fill="#f85656"/>
<rect x="63.70" y="319.60" width="19.45" height="1.55" fill="#f85e5e"/>
<rect x="63.70" y="321.10" width="19.45" height="3.05" fill="#f86d6d"/>
<rect x="63.70" y="324.10" width="19.45" height="1.05" fill="#f85d5d"/>
<rect x="63.70" y="325.10" width="19.45" height="2.05" fill="#f86666"/>
<rect x="63.70" y="327.10" width="19.45" height="1.05" fill="#f87171"/>
<rect x="63.70" y="328.10" width="19.45" height="1.05" fill="#f86161"/>
<rect x="63.70" y="329.10" width="19.45" height="1.05" fill="#f87272"/>
<rect x="63.70" y="330.10" width="19.45" height="3.05" fill="#f86666"/>
<rect x="63.70" y="333.10" width="19.45" height="2.05" fill="#f86d6d"/>
<rect x="63.70" y="335.10" width="19.45" height="2.05" fill="#f86b6b"/>
<rect x="63.70" y="337.10" width="19.45" height="1.05" fill="#f87373"/>
<rect x="63.70" y="338.10" width="19.45" height="2.05" fill="#f87070"/>
<rect x="63.70" y="340.10" width="19.45" height="2.05" fill="#f86c6c"/>
<rect x="63.70" y="342.10" width="19.45" height="3.05" fill="#f87171"/>
<rect x="63.70" y="345.10" width="19.45" height="1.05" fill="#f87e7e"/>
<rect x="63.70" y="346.10" width="19.45" height="1.05" fill="#f98a8a"/>
<rect x="63.70" y="347.10" width="19.45" height="1.05" fill="#f98a8a"/>
<rect x="63.70" y="348.10" width="19.45" height="1.55" fill="#f87e7e"/>
<rect x="63.70" y="349.60" width="19.45" height="2.05" fill="#f88888"/>
<rect x="63.70" y="351.60" width="19.45" height="1.05" fill="#f88b8b"/>
<rect x="63.70" y="352.60" width="19.45" height="2.05" fill="#f88686"/>
<rect x="63.70" y="354.60" width="19.45" height="3.05" fill="#f88585"/>
<rect x="63.70" y="357.60" width="19.45" height="1.05" fill="#f88e8e"/>
<rect x="63.70" y="358.60" width="19.45" height="3.05" fill="#f88b8b"/>
<rect x="63.70" y="361.60" width="19.45" height="1.55" fill="#f89a9a"/>
<rect x="63.70" y="363.10" width="19.45" height="1.55" fill="#f89d9d"/>
<rect x="63.70" y="364.60" width="19.45" height="2.05" fill="#f89a9a"/>
<rect x="63.70" y="366.60" width="19.45" height="1.05" fill="#f8a4a4"/>
<rect x="63.70" y="367.60" width="19.45" height="1.05" fill="#f79595"/>
<rect x="63.70" y="368.60" width="19.45" height="0.55" fill="#f8a4a4"/>
<rect x="83.10" y="318.60" width="19.45" height="1.05" fill="#9999e3"/>
<rect x="83.10" y="319.60" width="19.45" height="1.55" fill="#8e8ee0"/>
<rect x="83.10" y="321.10" width="19.45" height="1.55" fill="#8e8ee0"/>
<rect x="83.10" y="322.60" width="19.45" height="1.05" fill="#9b9be4"/>
<rect x="83.10" y="323.60" width="19.45" height="1.55" fill="#9191e2"/>
<rect x="83.10" y="325.10" width="19.45" height="2.05" fill="#8888df"/>
<rect x="83.10" y="327.10" width="19.45" height="1.55" fill="#8e8ee1"/>
<rect x="83.10" y="328.60" width="19.45" height="1.05" fill="#9191e2"/>
<rect x="83.10" y="329.60" width="19.45" height="3.05" fill="#8e8ee1"/>
<rect x="83.10" y="332.60" width="19.45" height="3.05" fill="#8d8de1"/>
<rect x="83.10" y="335.60" width="19.45" height="1.05" fill="#9292e3"/>
<rect x="83.10" y="336.60" width="19.45" height="2.05" fill="#7c7cdd"/>
<rect x="83.10" y="338.60" width="19.45" height="3.05" fill="#8484df"/>
<rect x="83.10" y="341.60" width="19.45" height="3.05" fill="#8a8ae0"/>
<rect x="83.10" y="344.60" width="19.45" height="1.05" fill="#8d8de1"/>
<rect x="83.10" y="345.60" width="19.45" height="1.55" fill="#8888e0"/>
<rect x="83.10" y="347.10" width="19.45" height="2.05" fill="#8f8fe2"/>
<rect x="83.10" y="349.10" width="19.45" height="1.55" fill="#8686df"/>
<rect x="83.10" y="350.60" width="19.45" height="1.05" fill="#8787df"/>
<rect x="83.10" y="351.60" width="19.45" height="2.05" fill="#8282de"/>
<rect x="83.10" y="353.60" width="19.45" height="1.05" fill="#9191e2"/>
<rect x="83.10" y="354.60" width="19.45" height="2.05" fill="#9393e2"/>
<rect x="83.10" y="356.60" width="19.45" height="1.05" fill="#8484de"/>
<rect x="83.10" y="357.60" width="19.45" height="1.55" fill="#8787df"/>
<rect x="83.10" y="359.10" width="19.45" height="2.05" fill="#8585de"/>
<rect x="83.10" y="361.10" width="19.45" height="1.55" fill="#9494e2"/>
<rect x="83.10" y="362.60" width="19.45" height="1.05" fill="#8d8de1"/>
<rect x="83.10" y="363.60" width="19.45" height="1.55" fill="#9191e1"/>
<rect x="83.10" y="365.10" width="19.45" height="3.05" fill="#8d8de0"/>
<rect x="83.10" y="368.10" width="19.45" height="1.05" fill="#9696e3"/>
<rect x="102.50" y="318.60" width="19.45" height="1.55" fill="#dbc1e1"/>
<rect x="102.50" y="320.10" width="19.45" height="1.55" fill="#beb0e2"/>
<rect x="102.50" y="321.60" width="19.45" height="1.05" fill="#a49fe3"/>
<rect x="102.50" y="322.60" width="19.45" height="1.05" fill="#9b9be4"/>
<rect x="102.50" y="323.60" width="19.45" height="2.05" fill="#a1a1e5"/>
<rect x="102.50" y="325.60" width="19.45" height="3.05" fill="#a4a4e6"/>
<rect x="102.50" y="328.60" width="19.45" height="1.55" fill="#9797e3"/>
<rect x="102.50" y="330.10" width="19.45" height="1.05" fill="#9494e2"/>
<rect x="102.50" y="331.10" width="19.45" height="1.05" fill="#9f9fe5"/>
<rect x="102.50" y="332.10" width="19.45" height="3.05" fill="#9d9de5"/>
<rect x="102.50" y="335.10" width="19.45" height="1.05" fill="#9595e2"/>
<rect x="102.50" y="336.10" width="19.45" height="1.05" fill="#a6a6e7"/>
<rect x="102.50" y="337.10" width="19.45" height="1.05" fill="#9494e2"/>
<rect x="102.50" y="338.10" width="19.45" height="1.05" fill="#9d9de5"/>
<rect x="102.50" y="339.10" width="19.45" height="1.05" fill="#a1a1e6"/>
<rect x="102.50" y="340.10" width="19.45" height="1.05" fill="#8f8fe1"/>
<rect x="102.50" y="341.10" width="19.45" height="2.05" fill="#9494e2"/>
<rect x="102.50" y="343.10" width="19.45" height="1.55" fill="#9999e4"/>
<rect x="102.50" y="344.60" width="19.45" height="3.05" fill="#9b9be4"/>
<rect x="102.50" y="347.60" width="19.45" height="2.05" fill="#9191e2"/>
<rect x="102.50" y="349.60" width="19.45" height="3.05" fill="#9b9be4"/>
<rect x="102.50" y="352.60" width="19.45" height="2.05" fill="#9898e4"/>
<rect x="102.50" y="354.60" width="19.45" height="1.05" fill="#9e9ee5"/>
<rect x="102.50" y="355.60" width="19.45" height="1.05" fill="#9292e2"/>
<rect x="102.50" y="356.60" width="19.45" height="3.05" fill="#a6a6e7"/>
<rect x="102.50" y="359.60" width="19.45" height="1.55" fill="#9d9de5"/>
<rect x="102.50" y="361.10" width="19.45" height="3.05" fill="#9a9ae4"/>
<rect x="102.50" y="364.10" width="19.45" height="1.05" fill="#9a9ae4"/>
<rect x="102.50" y="365.10" width="19.45" height="2.05" fill="#9494e3"/>
<rect x="102.50" y="367.10" width="19.45" height="2.05" fill="#9898e4"/>
<rect x="121.90" y="318.60" width="19.45" height="3.05" fill="#a9a9ed"/>
<rect x="121.90" y="321.60" width="19.45" height="2.05" fill="#afafee"/>
<rect x="121.90" y="323.60" width="19.45" height="3.05" fill="#b0b0ee"/>
<rect x="121.90" y="326.60" width="19.45" height="2.05" fill="#acacec"/>
<rect x="121.90" y="328.60" width="19.45" height="1.05" fill="#aeaeed"/>
<rect x="121.90" y="329.60" width="19.45" height="1.55" fill="#bcbcf0"/>
<rect x="121.90" y="331.10" width="19.45" height="2.05" fill="#b5b5ed"/>
<rect x="121.90" y="333.10" width="19.45" height="1.55" fill="#b6b6ee"/>
<rect x="121.90" y="334.60" width="19.45" height="2.05" fill="#b4b4ed"/>
<rect x="121.90" y="336.60" width="19.45" height="1.55" fill="#c0c0ef"/>
<rect x="121.90" y="338.10" width="19.45" height="2.05" fill="#c2c2f0"/>
<rect x="121.90" y="340.10" width="19.45" height="2.05" fill="#c1c1ef"/>
<rect x="121.90" y="342.10" width="19.45" height="1.05" fill="#c8c8f0"/>
<rect x="121.90" y="343.10" width="19.45" height="1.05" fill="#ccccf1"/>
<rect x="121.90" y="344.10" width="19.45" height="1.55" fill="#c7c7ef"/>
<rect x="121.90" y="345.60" width="19.45" height="2.05" fill="#c6c5ee"/>
<rect x="121.90" y="347.60" width="19.45" height="3.05" fill="#cac8ee"/>
<rect x="121.90" y="350.60" width="19.45" height="2.05" fill="#d4d1f0"/>
<rect x="121.90" y="352.60" width="19.45" height="1.05" fill="#d7d4f1"/>
<rect x="121.90" y="353.60" width="19.45" height="3.05" fill="#d4d0ee"/>
<rect x="121.90" y="356.60" width="19.45" height="2.05" fill="#dedaf1"/>
<rect x="121.90" y="358.60" width="19.45" height="1.55" fill="#dfdaf0"/>
<rect x="121.90" y="360.10" width="19.45" height="3.05" fill="#e7e2f3"/>
<rect x="121.90" y="363.10" width="19.45" height="1.05" fill="#e8e3f2"/>
<rect x="121.90" y="364.10" width="19.45" height="1.05" fill="#e4ddef"/>
<rect x="121.90" y="365.10" width="19.45" height="3.05" fill="#e6deee"/>
<rect x="121.90" y="368.10" width="19.45" height="1.05" fill="#eae2ef"/>
<rect x="141.30" y="318.60" width="19.45" height="2.05" fill="#bbbbee"/>
<rect x="141.30" y="320.60" width="19.45" height="2.05" fill="#bdbdee"/>
<rect x="141.30" y="322.60" width="19.45" height="2.05" fill="#bebeee"/>
<rect x="141.30" y="324.60" width="19.45" height="1.55" fill="#bfbfee"/>
<rect x="141.30" y="326.10" width="19.45" height="2.05" fill="#b9b9ec"/>
<rect x="141.30" y="328.10" width="19.45" height="1.05" fill="#cacaf0"/>
<rect x="141.30" y="329.10" width="19.45" height="2.05" fill="#bdbdec"/>
<rect x="141.30" y="331.10" width="19.45" height="1.05" fill="#c4c4ee"/>
<rect x="141.30" y="332.10" width="19.45" height="1.55" fill="#c2c2ed"/>
<rect x="141.30" y="333.60" width="19.45" height="2.05" fill="#c6c6ee"/>
<rect x="141.30" y="335.60" width="19.45" height="2.05" fill="#cdcdef"/>
<rect x="141.30" y="337.60" width="19.45" height="1.05" fill="#c6c6ed"/>
<rect x="141.30" y="338.60" width="19.45" height="3.05" fill="#c4c4ec"/>
<rect x="141.30" y="341.60" width="19.45" height="1.05" fill="#d2d2f0"/>
<rect x="141.30" y="342.60" width="19.45" height="2.05" fill="#d3d3f0"/>
<rect x="141.30" y="344.60" width="19.45" height="2.05" fill="#d0d0ee"/>
<rect x="141.30" y="346.60" width="19.45" height="1.05" fill="#dbdbf2"/>
<rect x="141.30" y="347.60" width="19.45" height="2.05" fill="#e0e0f4"/>
<rect x="141.30" y="349.60" width="19.45" height="2.05" fill="#d5d5f0"/>
<rect x="141.30" y="351.60" width="19.45" height="1.05" fill="#dedef3"/>
<rect x="141.30" y="352.60" width="19.45" height="2.05" fill="#d9d9f0"/>
<rect x="141.30" y="354.60" width="19.45" height="1.05" fill="#ddddf2"/>
<rect x="141.30" y="355.60" width="19.45" height="1.05" fill="#e1e1f3"/>
<rect x="141.30" y="356.60" width="19.45" height="1.55" fill="#dedef2"/>
<rect x="141.30" y="358.10" width="19.45" height="1.05" fill="#e9e9f6"/>
<rect x="141.30" y="359.10" width="19.45" height="1.05" fill="#dbdbf0"/>
<rect x="141.30" y="360.10" width="19.45" height="1.05" fill="#e1e1f2"/>
<rect x="141.30" y="361.10" width="19.45" height="1.05" fill="#e0e0f2"/>
<rect x="141.30" y="362.10" width="19.45" height="1.05" fill="#dfdff1"/>
<rect x="141.30" y="363.10" width="19.45" height="3.05" fill="#f2f2f9"/>
<rect x="141.30" y="366.10" width="19.45" height="1.05" fill="#ededf7"/>
<rect x="141.30" y="367.10" width="19.45" height="1.05" fill="#e3e3f2"/>
<rect x="141.30" y="368.10" width="19.45" height="1.05" fill="#dbdbee"/>
</g>
<rect x="40" y="316.2" width="123" height="0.7" fill="#c8c8c8"/>
<rect x="44.3" y="396" width="35.4" height="1.6" fill="#111"/>
<rect x="83.3" y="396" width="35.4" height="1.6" fill="#111"/>
<rect x="121.6" y="396" width="35.9" height="1.6" fill="#111"/>
<text x="61.3" y="409.4" font-size="10.6" font-weight="bold" text-anchor="middle">C</text>
<text x="101.8" y="409.4" font-size="10.6" font-weight="bold" text-anchor="middle">D</text>
<text x="140.5" y="409.4" font-size="10.6" font-weight="bold" text-anchor="middle">R</text>
<text transform="translate(28.9 74.6) rotate(-90)" font-size="9.6" font-weight="bold" text-anchor="middle">Cluster 1</text>
<text transform="translate(40.3 75.3) rotate(-90)" font-size="9.6" font-weight="bold" text-anchor="middle">(n = 1396)</text>
<text transform="translate(28.9 147.8) rotate(-90)" font-size="9.6" font-weight="bold" text-anchor="middle">Cluster 2</text>
<text transform="translate(40.3 148.5) rotate(-90)" font-size="9.6" font-weight="bold" text-anchor="middle">(n = 873)</text>
<text transform="translate(28.9 249.3) rotate(-90)" font-size="9.6" font-weight="bold" text-anchor="middle">Cluster 3</text>
<text transform="translate(40.3 250.0) rotate(-90)" font-size="9.6" font-weight="bold" text-anchor="middle">(n = 2103)</text>
<text transform="translate(28.9 341) rotate(-90)" font-size="9.6" font-weight="bold" text-anchor="middle">Cluster 4</text>
<text transform="translate(40.3 341.7) rotate(-90)" font-size="9.6" font-weight="bold" text-anchor="middle">(n = 800)</text>
<text transform="translate(28.9 389.2) rotate(-90)" font-size="9.6" font-weight="bold" text-anchor="middle">Cluster 5</text>
<text transform="translate(40.3 389.9) rotate(-90)" font-size="9.6" font-weight="bold" text-anchor="middle">(n = 302)</text>
<defs><linearGradient id="zg" x1="0" y1="1" x2="0" y2="0"><stop offset="0" stop-color="#0a0acc"/><stop offset="0.5" stop-color="#ffffff"/><stop offset="1" stop-color="#ee1111"/></linearGradient>
<linearGradient id="pg" x1="0" y1="1" x2="0" y2="0">
<stop offset="0.0000" stop-color="#00FF00"/>
<stop offset="0.1667" stop-color="#7FE400"/>
<stop offset="0.3333" stop-color="#ABC900"/>
<stop offset="0.5000" stop-color="#C9AB00"/>
<stop offset="0.6667" stop-color="#DF8A00"/>
<stop offset="0.8333" stop-color="#F16000"/>
<stop offset="1.0000" stop-color="#FF0000"/>
</linearGradient></defs>
<rect x="171.4" y="309.4" width="10.3" height="80.7" fill="url(#zg)"/>
<text x="183.5" y="319.1" font-size="9.4">2</text>
<text x="183.5" y="352.2" font-size="9.4">0</text>
<text x="183.5" y="389.8" font-size="9.4">−2</text>
<text transform="translate(170.6 350.3) rotate(-90)" font-size="9.4" font-weight="bold" text-anchor="middle">z-score</text>
<text x="4.6" y="19.6" font-size="18.5" font-weight="bold">a</text>
<text x="219.9" y="19.7" font-size="19.5" font-weight="bold">b</text>
<text x="219.8" y="233" font-size="18.5" font-weight="bold">c</text>
<rect x="432.6" y="37.15" width="73.5" height="0.7" fill="#efefef"/>
<rect x="432.6" y="52.23" width="73.5" height="0.7" fill="#efefef"/>
<rect x="432.6" y="67.31" width="73.5" height="0.7" fill="#efefef"/>
<rect x="432.6" y="82.39" width="73.5" height="0.7" fill="#efefef"/>
<rect x="432.6" y="97.47" width="73.5" height="0.7" fill="#efefef"/>
<rect x="432.6" y="112.55" width="73.5" height="0.7" fill="#efefef"/>
<rect x="432.6" y="127.63" width="73.5" height="0.7" fill="#efefef"/>
<rect x="432.6" y="142.71" width="73.5" height="0.7" fill="#efefef"/>
<rect x="432.6" y="157.79" width="73.5" height="0.7" fill="#efefef"/>
<rect x="432.6" y="172.87" width="73.5" height="0.7" fill="#efefef"/>
<rect x="440.55" y="28.7" width="0.7" height="153.70000000000002" fill="#efefef"/>
<rect x="454.70" y="28.7" width="0.7" height="153.70000000000002" fill="#efefef"/>
<rect x="468.85" y="28.7" width="0.7" height="153.70000000000002" fill="#efefef"/>
<rect x="483.00" y="28.7" width="0.7" height="153.70000000000002" fill="#efefef"/>
<rect x="497.15" y="28.7" width="0.7" height="153.70000000000002" fill="#efefef"/>
<ellipse cx="440.90" cy="37.50" rx="5.90" ry="4.40" fill="#eb9433"/>
<ellipse cx="455.05" cy="37.50" rx="1.45" ry="1.40" fill="#47fb33"/>
<ellipse cx="469.20" cy="37.50" rx="1.45" ry="1.40" fill="#47fb33"/>
<ellipse cx="483.35" cy="37.50" rx="1.45" ry="1.40" fill="#47fb33"/>
<ellipse cx="497.50" cy="37.50" rx="1.45" ry="1.40" fill="#47fb33"/>
<ellipse cx="440.90" cy="52.58" rx="4.00" ry="3.20" fill="#ff3333"/>
<ellipse cx="455.05" cy="52.58" rx="3.20" ry="2.70" fill="#cac533"/>
<ellipse cx="469.20" cy="52.58" rx="3.70" ry="3.00" fill="#cac533"/>
<ellipse cx="483.35" cy="52.58" rx="2.70" ry="2.50" fill="#b5d833"/>
<ellipse cx="497.50" cy="52.58" rx="2.45" ry="2.05" fill="#d4bc33"/>
<ellipse cx="440.90" cy="67.66" rx="3.20" ry="2.80" fill="#ff3333"/>
<ellipse cx="455.05" cy="67.66" rx="2.70" ry="2.30" fill="#ff3333"/>
<ellipse cx="469.20" cy="67.66" rx="2.80" ry="2.60" fill="#5cf633"/>
<ellipse cx="483.35" cy="67.66" rx="2.45" ry="2.30" fill="#70f233"/>
<ellipse cx="497.50" cy="67.66" rx="1.95" ry="1.80" fill="#5cf633"/>
<ellipse cx="440.90" cy="82.74" rx="3.20" ry="2.80" fill="#ff3333"/>
<ellipse cx="455.05" cy="82.74" rx="2.70" ry="2.30" fill="#ff3333"/>
<ellipse cx="469.20" cy="82.74" rx="2.80" ry="2.60" fill="#5cf633"/>
<ellipse cx="483.35" cy="82.74" rx="2.45" ry="2.30" fill="#70f233"/>
<ellipse cx="497.50" cy="82.74" rx="1.95" ry="1.80" fill="#5cf633"/>
<ellipse cx="440.90" cy="97.82" rx="1.60" ry="1.55" fill="#51f933"/>
<ellipse cx="455.05" cy="97.82" rx="1.45" ry="1.40" fill="#47fb33"/>
<ellipse cx="469.20" cy="97.82" rx="5.90" ry="4.65" fill="#ff3333"/>
<ellipse cx="483.35" cy="97.82" rx="1.60" ry="1.55" fill="#51f933"/>
<ellipse cx="497.50" cy="97.82" rx="1.45" ry="1.40" fill="#47fb33"/>
<ellipse cx="440.90" cy="112.90" rx="2.70" ry="2.30" fill="#b1da33"/>
<ellipse cx="455.05" cy="112.90" rx="2.70" ry="2.30" fill="#b1da33"/>
<ellipse cx="469.20" cy="112.90" rx="3.45" ry="2.80" fill="#ff3333"/>
<ellipse cx="483.35" cy="112.90" rx="2.70" ry="2.30" fill="#ff3333"/>
<ellipse cx="497.50" cy="112.90" rx="2.70" ry="2.05" fill="#cac533"/>
<ellipse cx="440.90" cy="127.98" rx="2.70" ry="2.30" fill="#bcd433"/>
<ellipse cx="455.05" cy="127.98" rx="2.70" ry="2.30" fill="#bcd433"/>
<ellipse cx="469.20" cy="127.98" rx="2.80" ry="2.55" fill="#5cf633"/>
<ellipse cx="483.35" cy="127.98" rx="2.70" ry="2.30" fill="#ff3333"/>
<ellipse cx="497.50" cy="127.98" rx="1.95" ry="1.80" fill="#aedc33"/>
<ellipse cx="440.90" cy="143.06" rx="2.70" ry="2.30" fill="#5cf633"/>
<ellipse cx="455.05" cy="143.06" rx="2.45" ry="2.30" fill="#99e933"/>
<ellipse cx="469.20" cy="143.06" rx="3.20" ry="2.55" fill="#99e933"/>
<ellipse cx="483.35" cy="143.06" rx="2.45" ry="2.30" fill="#9ce733"/>
<ellipse cx="497.50" cy="143.06" rx="2.70" ry="2.30" fill="#e2a733"/>
<ellipse cx="440.90" cy="158.14" rx="1.60" ry="1.55" fill="#51f933"/>
<ellipse cx="455.05" cy="158.14" rx="2.70" ry="2.30" fill="#aedc33"/>
<ellipse cx="469.20" cy="158.14" rx="3.20" ry="2.55" fill="#99e933"/>
<ellipse cx="483.35" cy="158.14" rx="2.45" ry="2.30" fill="#a0e533"/>
<ellipse cx="497.50" cy="158.14" rx="3.20" ry="2.55" fill="#f48033"/>
<ellipse cx="440.90" cy="173.22" rx="1.60" ry="1.55" fill="#51f933"/>
<ellipse cx="455.05" cy="173.22" rx="1.60" ry="1.55" fill="#51f933"/>
<ellipse cx="469.20" cy="173.22" rx="1.60" ry="1.55" fill="#51f933"/>
<ellipse cx="483.35" cy="173.22" rx="1.60" ry="1.55" fill="#51f933"/>
<ellipse cx="497.50" cy="173.22" rx="5.00" ry="3.75" fill="#ff3333"/>
<rect x="432.6" y="28.7" width="73.5" height="153.70000000000002" fill="none" stroke="#7a7a7a" stroke-width="0.9"/>
<rect x="432.6" y="37.05" width="2.3" height="0.9" fill="#8a8a8a"/>
<rect x="432.6" y="52.13" width="2.3" height="0.9" fill="#8a8a8a"/>
<rect x="432.6" y="67.21" width="2.3" height="0.9" fill="#8a8a8a"/>
<rect x="432.6" y="82.29" width="2.3" height="0.9" fill="#8a8a8a"/>
<rect x="432.6" y="97.37" width="2.3" height="0.9" fill="#8a8a8a"/>
<rect x="432.6" y="112.45" width="2.3" height="0.9" fill="#8a8a8a"/>
<rect x="432.6" y="127.53" width="2.3" height="0.9" fill="#8a8a8a"/>
<rect x="432.6" y="142.61" width="2.3" height="0.9" fill="#8a8a8a"/>
<rect x="432.6" y="157.69" width="2.3" height="0.9" fill="#8a8a8a"/>
<rect x="432.6" y="172.77" width="2.3" height="0.9" fill="#8a8a8a"/>
<text x="428.40000000000003" y="41.30" font-size="9.6" text-anchor="end" class="lb">response to water</text>
<text x="428.40000000000003" y="55.60" font-size="9.6" text-anchor="end" class="lb">cellular carbohydrate metabolic process</text>
<text x="428.40000000000003" y="70.60" font-size="9.6" text-anchor="end" class="lb">regulation of transcription</text>
<text x="428.40000000000003" y="85.30" font-size="9.6" text-anchor="end" class="lb">regulation of nitrogen compound metabolic process</text>
<text x="428.40000000000003" y="100.00" font-size="9.6" text-anchor="end" class="lb">photosynthesis</text>
<text x="428.40000000000003" y="114.60" font-size="9.6" text-anchor="end" class="lb">oxidation reduction</text>
<text x="428.40000000000003" y="129.30" font-size="9.6" text-anchor="end" class="lb">protein amino acid phosphorylation</text>
<text x="428.40000000000003" y="143.90" font-size="9.6" text-anchor="end" class="lb">response to stress</text>
<text x="428.40000000000003" y="158.60" font-size="9.6" text-anchor="end" class="lb">response to oxidative stress</text>
<text x="428.40000000000003" y="173.30" font-size="9.6" text-anchor="end" class="lb">chitin metabolic process</text>
<rect x="440.45" y="180.10" width="0.9" height="2.3" fill="#8a8a8a"/>
<text transform="translate(445.30 188.80) rotate(-36)" font-size="9.6" font-weight="bold" text-anchor="end">Cluster 1</text>
<rect x="454.60" y="180.10" width="0.9" height="2.3" fill="#8a8a8a"/>
<text transform="translate(460.60 188.80) rotate(-36)" font-size="9.6" font-weight="bold" text-anchor="end">Cluster 2</text>
<rect x="468.75" y="180.10" width="0.9" height="2.3" fill="#8a8a8a"/>
<text transform="translate(475.50 188.80) rotate(-36)" font-size="9.6" font-weight="bold" text-anchor="end">Cluster 3</text>
<rect x="482.90" y="180.10" width="0.9" height="2.3" fill="#8a8a8a"/>
<text transform="translate(491.30 188.80) rotate(-36)" font-size="9.6" font-weight="bold" text-anchor="end">Cluster 4</text>
<rect x="497.05" y="180.10" width="0.9" height="2.3" fill="#8a8a8a"/>
<text transform="translate(506.60 188.80) rotate(-36)" font-size="9.6" font-weight="bold" text-anchor="end">Cluster 5</text>
<text x="429.9" y="27.3" font-size="9.45" font-weight="bold" text-anchor="end">Gene Ontology terms</text>
<rect x="432.7" y="243.05" width="73.40000000000003" height="0.7" fill="#efefef"/>
<rect x="432.7" y="256.79" width="73.40000000000003" height="0.7" fill="#efefef"/>
<rect x="432.7" y="270.53" width="73.40000000000003" height="0.7" fill="#efefef"/>
<rect x="432.7" y="284.27" width="73.40000000000003" height="0.7" fill="#efefef"/>
<rect x="432.7" y="298.01" width="73.40000000000003" height="0.7" fill="#efefef"/>
<rect x="432.7" y="311.75" width="73.40000000000003" height="0.7" fill="#efefef"/>
<rect x="432.7" y="325.49" width="73.40000000000003" height="0.7" fill="#efefef"/>
<rect x="432.7" y="339.23" width="73.40000000000003" height="0.7" fill="#efefef"/>
<rect x="432.7" y="352.97" width="73.40000000000003" height="0.7" fill="#efefef"/>
<rect x="432.7" y="366.71" width="73.40000000000003" height="0.7" fill="#efefef"/>
<rect x="432.7" y="380.45" width="73.40000000000003" height="0.7" fill="#efefef"/>
<rect x="440.55" y="235.4" width="0.7" height="153.99999999999997" fill="#efefef"/>
<rect x="454.70" y="235.4" width="0.7" height="153.99999999999997" fill="#efefef"/>
<rect x="468.85" y="235.4" width="0.7" height="153.99999999999997" fill="#efefef"/>
<rect x="483.00" y="235.4" width="0.7" height="153.99999999999997" fill="#efefef"/>
<rect x="497.15" y="235.4" width="0.7" height="153.99999999999997" fill="#efefef"/>
<ellipse cx="440.90" cy="243.40" rx="2.70" ry="2.55" fill="#ff3333"/>
<ellipse cx="455.05" cy="243.40" rx="2.45" ry="2.30" fill="#ff3333"/>
<ellipse cx="469.20" cy="243.40" rx="3.45" ry="3.05" fill="#ff3333"/>
<ellipse cx="483.35" cy="243.40" rx="2.45" ry="2.30" fill="#ff3333"/>
<ellipse cx="497.50" cy="243.40" rx="2.45" ry="2.30" fill="#ff3333"/>
<ellipse cx="440.90" cy="257.14" rx="3.20" ry="2.80" fill="#f18733"/>
<ellipse cx="455.05" cy="257.14" rx="3.45" ry="3.05" fill="#ff3333"/>
<ellipse cx="469.20" cy="257.14" rx="2.45" ry="2.30" fill="#58f733"/>
<ellipse cx="483.35" cy="257.14" rx="1.70" ry="1.70" fill="#58f733"/>
<ellipse cx="497.50" cy="257.14" rx="2.45" ry="2.30" fill="#c5ca33"/>
<ellipse cx="440.90" cy="270.88" rx="3.20" ry="3.05" fill="#ff3333"/>
<ellipse cx="455.05" cy="270.88" rx="2.45" ry="2.30" fill="#b5d833"/>
<ellipse cx="469.20" cy="270.88" rx="2.20" ry="2.05" fill="#58f733"/>
<ellipse cx="483.35" cy="270.88" rx="2.45" ry="2.30" fill="#b5d833"/>
<ellipse cx="497.50" cy="270.88" rx="2.45" ry="2.30" fill="#deac33"/>
<ellipse cx="440.90" cy="284.62" rx="3.20" ry="3.05" fill="#ff3333"/>
<ellipse cx="455.05" cy="284.62" rx="2.70" ry="2.55" fill="#b9d633"/>
<ellipse cx="469.20" cy="284.62" rx="3.95" ry="3.55" fill="#ff3333"/>
<ellipse cx="483.35" cy="284.62" rx="2.45" ry="2.30" fill="#64f533"/>
<ellipse cx="497.50" cy="284.62" rx="1.95" ry="1.80" fill="#58f733"/>
<ellipse cx="440.90" cy="298.36" rx="3.70" ry="3.30" fill="#ff3333"/>
<ellipse cx="455.05" cy="298.36" rx="2.45" ry="2.30" fill="#64f533"/>
<ellipse cx="469.20" cy="298.36" rx="3.45" ry="3.05" fill="#deac33"/>
<ellipse cx="483.35" cy="298.36" rx="2.70" ry="2.55" fill="#b5d833"/>
<ellipse cx="497.50" cy="298.36" rx="2.45" ry="2.30" fill="#c0d033"/>
<ellipse cx="440.90" cy="312.10" rx="3.45" ry="3.05" fill="#f76a33"/>
<ellipse cx="455.05" cy="312.10" rx="2.20" ry="2.05" fill="#a0e533"/>
<ellipse cx="469.20" cy="312.10" rx="3.45" ry="3.05" fill="#deac33"/>
<ellipse cx="483.35" cy="312.10" rx="1.60" ry="1.55" fill="#58f733"/>
<ellipse cx="497.50" cy="312.10" rx="1.60" ry="1.55" fill="#58f733"/>
<ellipse cx="440.90" cy="325.84" rx="1.95" ry="1.80" fill="#58f733"/>
<ellipse cx="455.05" cy="325.84" rx="1.60" ry="1.55" fill="#58f733"/>
<ellipse cx="469.20" cy="325.84" rx="5.75" ry="5.10" fill="#ff3333"/>
<ellipse cx="483.35" cy="325.84" rx="2.20" ry="2.05" fill="#9be833"/>
<ellipse cx="497.50" cy="325.84" rx="1.60" ry="1.55" fill="#58f733"/>
<ellipse cx="440.90" cy="339.58" rx="2.95" ry="2.80" fill="#deac33"/>
<ellipse cx="455.05" cy="339.58" rx="2.45" ry="2.30" fill="#a0e533"/>
<ellipse cx="469.20" cy="339.58" rx="2.95" ry="2.80" fill="#9be833"/>
<ellipse cx="483.35" cy="339.58" rx="2.45" ry="2.30" fill="#deac33"/>
<ellipse cx="497.50" cy="339.58" rx="2.45" ry="2.30" fill="#cbc433"/>
<ellipse cx="440.90" cy="353.32" rx="2.95" ry="2.80" fill="#acdd33"/>
<ellipse cx="455.05" cy="353.32" rx="2.20" ry="2.05" fill="#64f533"/>
<ellipse cx="469.20" cy="353.32" rx="3.70" ry="3.30" fill="#c0d033"/>
<ellipse cx="483.35" cy="353.32" rx="3.70" ry="3.45" fill="#dab233"/>
<ellipse cx="497.50" cy="353.32" rx="3.20" ry="2.80" fill="#cbc433"/>
<ellipse cx="440.90" cy="367.06" rx="2.45" ry="2.30" fill="#ea9733"/>
<ellipse cx="455.05" cy="367.06" rx="2.20" ry="2.05" fill="#c0d033"/>
<ellipse cx="469.20" cy="367.06" rx="3.20" ry="3.05" fill="#ff3333"/>
<ellipse cx="483.35" cy="367.06" rx="2.20" ry="2.05" fill="#f76a33"/>
<ellipse cx="497.50" cy="367.06" rx="2.20" ry="2.05" fill="#ff3333"/>
<ellipse cx="440.90" cy="380.80" rx="2.70" ry="2.55" fill="#b5d833"/>
<ellipse cx="455.05" cy="380.80" rx="2.70" ry="2.55" fill="#b5d833"/>
<ellipse cx="469.20" cy="380.80" rx="2.45" ry="2.30" fill="#58f733"/>
<ellipse cx="483.35" cy="380.80" rx="2.70" ry="2.55" fill="#b9d633"/>
<ellipse cx="497.50" cy="380.80" rx="2.45" ry="2.30" fill="#ff3333"/>
<rect x="432.7" y="235.4" width="73.40000000000003" height="153.99999999999997" fill="none" stroke="#7a7a7a" stroke-width="0.9"/>
<rect x="432.7" y="242.95" width="2.3" height="0.9" fill="#8a8a8a"/>
<rect x="432.7" y="256.69" width="2.3" height="0.9" fill="#8a8a8a"/>
<rect x="432.7" y="270.43" width="2.3" height="0.9" fill="#8a8a8a"/>
<rect x="432.7" y="284.17" width="2.3" height="0.9" fill="#8a8a8a"/>
<rect x="432.7" y="297.91" width="2.3" height="0.9" fill="#8a8a8a"/>
<rect x="432.7" y="311.65" width="2.3" height="0.9" fill="#8a8a8a"/>
<rect x="432.7" y="325.39" width="2.3" height="0.9" fill="#8a8a8a"/>
<rect x="432.7" y="339.13" width="2.3" height="0.9" fill="#8a8a8a"/>
<rect x="432.7" y="352.87" width="2.3" height="0.9" fill="#8a8a8a"/>
<rect x="432.7" y="366.61" width="2.3" height="0.9" fill="#8a8a8a"/>
<rect x="432.7" y="380.35" width="2.3" height="0.9" fill="#8a8a8a"/>
<text x="429.8" y="245.90" font-size="9.6" text-anchor="end" class="lb">Metabolic pathways</text>
<text x="429.8" y="260.60" font-size="9.6" text-anchor="end" class="lb">MAPK signaling pathway - plant</text>
<text x="429.8" y="273.50" font-size="9.6" text-anchor="end" class="lb">Plant hormone signal transduction</text>
<text x="429.8" y="288.70" font-size="9.6" text-anchor="end" class="lb">Carbon metabolism</text>
<text x="429.8" y="302.10" font-size="9.6" text-anchor="end" class="lb">Glycolysis / Gluconeogenesis</text>
<text x="429.8" y="315.40" font-size="9.6" text-anchor="end" class="lb">Pyruvate metabolism</text>
<text x="429.8" y="329.70" font-size="9.6" text-anchor="end" class="lb">Photosynthesis</text>
<text x="429.8" y="342.50" font-size="9.6" text-anchor="end" class="lb">Starch and sucrose metabolism</text>
<text x="429.8" y="356.70" font-size="9.6" text-anchor="end" class="lb">Nitrogen metabolism</text>
<text x="429.8" y="370.20" font-size="9.6" text-anchor="end" class="lb">Biosynthesis of secondary metabolites</text>
<text x="429.8" y="383.50" font-size="9.6" text-anchor="end" class="lb">Amino sugar and nucleotide sugar metabolism</text>
<rect x="440.45" y="387.10" width="0.9" height="2.3" fill="#8a8a8a"/>
<text transform="translate(446.40 395.80) rotate(-36)" font-size="9.6" font-weight="bold" text-anchor="end">Cluster 1</text>
<rect x="454.60" y="387.10" width="0.9" height="2.3" fill="#8a8a8a"/>
<text transform="translate(461.70 395.80) rotate(-36)" font-size="9.6" font-weight="bold" text-anchor="end">Cluster 2</text>
<rect x="468.75" y="387.10" width="0.9" height="2.3" fill="#8a8a8a"/>
<text transform="translate(476.10 395.80) rotate(-36)" font-size="9.6" font-weight="bold" text-anchor="end">Cluster 3</text>
<rect x="482.90" y="387.10" width="0.9" height="2.3" fill="#8a8a8a"/>
<text transform="translate(492.10 395.80) rotate(-36)" font-size="9.6" font-weight="bold" text-anchor="end">Cluster 4</text>
<rect x="497.05" y="387.10" width="0.9" height="2.3" fill="#8a8a8a"/>
<text transform="translate(507.30 395.80) rotate(-36)" font-size="9.6" font-weight="bold" text-anchor="end">Cluster 5</text>
<text x="429.0" y="231.8" font-size="9.45" font-weight="bold" text-anchor="end">KEGG terms</text>
<text x="510.6" y="27.6" font-size="9.4" class="lb">p-value</text>
<text x="509.0" y="39.3" font-size="9.6" class="lb">(</text>
<rect x="512.90" y="36.20" width="4.6" height="0.8" fill="#666"/>
<text x="518.70" y="39.3" font-size="9.6" letter-spacing="0.25" class="lb">log</text>
<text x="533.20" y="40.90" font-size="6.2" letter-spacing="0.2" class="lb">10</text>
<text x="539.90" y="39.3" font-size="9.6" class="lb">)</text>
<rect x="513.8" y="42.2" width="15.300000000000068" height="56.89999999999999" fill="url(#pg)"/>
<rect x="513.8" y="50.95" width="2.4" height="0.7" fill="#fff" opacity="0.8"/>
<rect x="526.7" y="50.95" width="2.4" height="0.7" fill="#fff" opacity="0.8"/>
<rect x="513.8" y="60.75" width="2.4" height="0.7" fill="#fff" opacity="0.8"/>
<rect x="526.7" y="60.75" width="2.4" height="0.7" fill="#fff" opacity="0.8"/>
<rect x="513.8" y="70.55" width="2.4" height="0.7" fill="#fff" opacity="0.8"/>
<rect x="526.7" y="70.55" width="2.4" height="0.7" fill="#fff" opacity="0.8"/>
<rect x="513.8" y="80.35" width="2.4" height="0.7" fill="#fff" opacity="0.8"/>
<rect x="526.7" y="80.35" width="2.4" height="0.7" fill="#fff" opacity="0.8"/>
<rect x="513.8" y="90.05" width="2.4" height="0.7" fill="#fff" opacity="0.8"/>
<rect x="526.7" y="90.05" width="2.4" height="0.7" fill="#fff" opacity="0.8"/>
<text x="534.1" y="48.10" font-size="9.4" class="lb">&gt;6</text>
<text x="534.1" y="57.30" font-size="9.4" class="lb">5</text>
<text x="534.1" y="67.00" font-size="9.4" class="lb">4</text>
<text x="534.1" y="76.70" font-size="9.4" class="lb">3</text>
<text x="534.1" y="86.20" font-size="9.4" class="lb">2</text>
<text x="534.1" y="95.60" font-size="9.4" class="lb">1</text>
<text x="534.1" y="104.90" font-size="9.4" class="lb">0</text>
<text x="514.7" y="119.1" font-size="9.4" class="lb">Ratio</text>
<ellipse cx="517.8" cy="127.5" rx="0.9" ry="0.9" fill="#444"/>
<text x="529" y="130.60" font-size="9.4" class="lb">0.0</text>
<ellipse cx="517.8" cy="139.3" rx="2.7" ry="2.3" fill="#444"/>
<text x="529" y="142.80" font-size="9.4" class="lb">0.1</text>
<ellipse cx="517.8" cy="151.0" rx="3.4" ry="3.0" fill="#444"/>
<text x="529" y="154.90" font-size="9.4" class="lb">0.2</text>
<ellipse cx="517.8" cy="163.1" rx="4.0" ry="3.5" fill="#444"/>
<text x="529" y="167.20" font-size="9.4" class="lb">0.3</text>
<ellipse cx="517.8" cy="175.9" rx="4.7" ry="4.1" fill="#444"/>
<text x="529" y="179.40" font-size="9.4" class="lb">0.4</text>
<text x="511.6" y="229.4" font-size="9.4" class="lb">p-value</text>
<text x="510.9" y="241.3" font-size="9.6" class="lb">(</text>
<rect x="514.80" y="238.20" width="4.6" height="0.8" fill="#666"/>
<text x="520.60" y="241.3" font-size="9.6" letter-spacing="0.25" class="lb">log</text>
<text x="535.10" y="242.90" font-size="6.2" letter-spacing="0.2" class="lb">10</text>
<text x="541.80" y="241.3" font-size="9.6" class="lb">)</text>
<rect x="516.2" y="249" width="16.0" height="55.39999999999998" fill="url(#pg)"/>
<rect x="516.2" y="259.65" width="2.4" height="0.7" fill="#fff" opacity="0.8"/>
<rect x="529.8000000000001" y="259.65" width="2.4" height="0.7" fill="#fff" opacity="0.8"/>
<rect x="516.2" y="270.45" width="2.4" height="0.7" fill="#fff" opacity="0.8"/>
<rect x="529.8000000000001" y="270.45" width="2.4" height="0.7" fill="#fff" opacity="0.8"/>
<rect x="516.2" y="281.25" width="2.4" height="0.7" fill="#fff" opacity="0.8"/>
<rect x="529.8000000000001" y="281.25" width="2.4" height="0.7" fill="#fff" opacity="0.8"/>
<rect x="516.2" y="291.95" width="2.4" height="0.7" fill="#fff" opacity="0.8"/>
<rect x="529.8000000000001" y="291.95" width="2.4" height="0.7" fill="#fff" opacity="0.8"/>
<text x="535.3" y="250.00" font-size="9.4" class="lb">&gt;5</text>
<text x="535.3" y="261.80" font-size="9.4" class="lb">4</text>
<text x="535.3" y="273.10" font-size="9.4" class="lb">3</text>
<text x="535.3" y="284.40" font-size="9.4" class="lb">2</text>
<text x="535.3" y="296.00" font-size="9.4" class="lb">1</text>
<text x="535.3" y="306.70" font-size="9.4" class="lb">0</text>
<text x="517" y="319.2" font-size="9.4" class="lb">Ratio</text>
<ellipse cx="519.4" cy="323.8" rx="0.85" ry="0.85" fill="#444"/>
<text x="528.8" y="329.50" font-size="9.4" class="lb">0.0</text>
<ellipse cx="519.4" cy="335.6" rx="2.3" ry="2.1" fill="#444"/>
<text x="528.8" y="342.00" font-size="9.4" class="lb">0.1</text>
<ellipse cx="519.4" cy="348.0" rx="2.8" ry="2.5" fill="#444"/>
<text x="528.8" y="353.80" font-size="9.4" class="lb">0.2</text>
<ellipse cx="519.4" cy="360.3" rx="3.4" ry="3.1" fill="#444"/>
<text x="528.8" y="365.90" font-size="9.4" class="lb">0.3</text>
<ellipse cx="519.4" cy="372.5" rx="3.8" ry="3.5" fill="#444"/>
<text x="528.8" y="378.10" font-size="9.4" class="lb">0.4</text>
<ellipse cx="519.4" cy="384.7" rx="4.3" ry="3.9" fill="#444"/>
<text x="528.8" y="389.70" font-size="9.4" class="lb">0.5</text>
</svg></body></html>
